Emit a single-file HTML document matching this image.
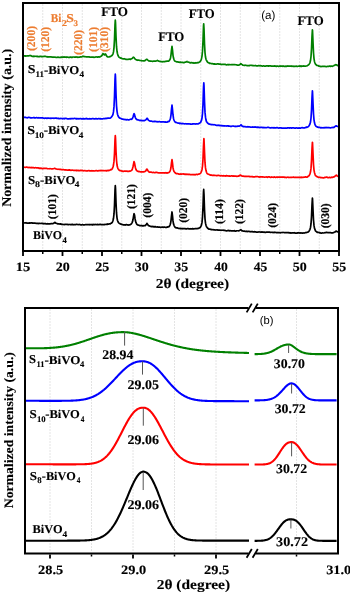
<!DOCTYPE html>
<html><head><meta charset="utf-8"><title>XRD patterns of BiVO4 and S-BiVO4</title>
<style>html,body{margin:0;padding:0;background:#fff;width:350px;height:594px;overflow:hidden}svg{display:block}</style>
</head><body>
<svg width="350" height="594" viewBox="0 0 350 594" text-rendering="geometricPrecision">
<rect width="350" height="594" fill="#fff"/>
<path d="M42.75,4.5V249.5M62.50,4.5V249.5M82.25,4.5V249.5M102.00,4.5V249.5M121.75,4.5V249.5M141.50,4.5V249.5M161.25,4.5V249.5M181.00,4.5V249.5M200.75,4.5V249.5M220.50,4.5V249.5M240.25,4.5V249.5M260.00,4.5V249.5M279.75,4.5V249.5M299.50,4.5V249.5M319.25,4.5V249.5" stroke="#c8c8c8" stroke-width="1" stroke-dasharray="1,2" fill="none"/>
<polyline points="24.00,55.98 24.50,55.89 25.00,56.09 25.50,55.90 26.00,56.05 26.50,56.02 27.00,55.87 27.50,56.01 28.00,55.83 28.50,55.91 29.00,55.72 29.50,55.59 30.00,55.65 30.30,55.77 30.50,55.65 31.00,55.71 31.50,56.02 32.00,56.33 32.50,56.32 33.00,56.26 33.50,56.53 34.00,56.22 34.50,56.51 35.00,56.36 35.50,56.26 36.00,56.23 36.50,56.31 37.00,56.59 37.50,56.41 38.00,56.54 38.50,56.62 39.00,56.54 39.50,56.59 40.00,56.40 40.50,56.34 41.00,56.38 41.50,56.62 42.00,56.58 42.50,56.50 43.00,56.57 43.50,56.49 44.00,56.32 44.50,56.42 45.00,56.39 45.10,56.27 45.50,56.33 46.00,56.46 46.50,56.75 47.00,56.85 47.50,56.72 48.00,57.02 48.50,56.75 49.00,56.82 49.50,57.02 50.00,56.83 50.50,56.93 51.00,56.77 51.50,57.02 52.00,57.17 52.50,57.14 53.00,57.29 53.50,57.09 54.00,57.21 54.50,57.22 55.00,57.23 55.50,57.18 56.00,57.36 56.50,57.48 57.00,57.32 57.50,57.36 58.00,57.11 58.50,57.31 59.00,57.35 59.50,57.52 60.00,57.50 60.50,57.25 61.00,57.20 61.50,57.32 62.00,57.06 62.50,57.17 63.00,57.07 63.50,57.01 64.00,56.96 64.50,57.27 65.00,57.08 65.50,57.07 66.00,57.13 66.50,57.37 67.00,57.09 67.50,57.16 68.00,57.23 68.50,57.40 69.00,57.43 69.50,57.46 70.00,57.20 70.50,57.17 71.00,57.13 71.50,57.36 72.00,57.47 72.50,57.13 73.00,57.03 73.50,57.01 74.00,57.01 74.50,57.11 75.00,57.20 75.50,57.07 76.00,56.91 76.50,57.03 77.00,57.05 77.50,57.14 78.00,57.34 78.50,57.28 79.00,57.16 79.50,57.15 80.00,57.14 80.50,56.82 81.00,57.02 81.50,56.94 82.00,56.81 82.50,56.57 82.90,56.27 83.00,56.23 83.50,56.23 84.00,56.64 84.50,56.61 85.00,56.66 85.50,56.77 86.00,56.81 86.50,56.92 87.00,56.84 87.50,56.80 88.00,56.86 88.50,56.86 89.00,56.99 89.50,56.88 90.00,57.24 90.50,57.25 91.00,57.04 91.50,57.02 92.00,57.05 92.50,57.07 93.00,56.97 93.50,57.27 94.00,57.43 94.50,57.25 95.00,57.19 95.50,56.98 96.00,56.91 96.50,56.99 97.00,56.97 97.50,57.20 98.00,56.96 98.50,56.78 99.00,57.11 99.50,56.98 100.00,56.68 100.50,56.64 101.00,56.19 101.50,55.94 102.00,55.46 102.50,54.43 102.90,53.67 103.00,53.62 103.50,54.22 104.00,54.69 104.50,54.87 105.00,54.25 105.40,53.97 105.50,53.99 106.00,54.73 106.50,55.84 107.00,56.53 107.50,56.81 108.00,56.94 108.50,57.01 109.00,56.99 109.50,56.71 110.00,56.68 110.50,56.49 111.00,56.12 111.50,55.79 112.00,55.45 112.50,54.78 113.00,53.82 113.50,51.90 114.00,47.61 114.50,39.25 115.00,25.03 115.30,20.07 115.50,22.38 116.00,36.57 116.50,46.43 117.00,51.28 117.50,53.78 118.00,55.40 118.50,56.49 119.00,57.12 119.50,57.39 120.00,57.73 120.50,58.05 121.00,57.95 121.50,58.28 122.00,58.60 122.50,58.73 123.00,58.83 123.50,58.81 124.00,58.72 124.50,59.02 125.00,58.97 125.50,59.21 126.00,59.41 126.50,59.26 127.00,59.24 127.50,59.51 128.00,59.52 128.50,59.26 129.00,59.14 129.50,59.08 130.00,59.35 130.50,59.31 131.00,58.86 131.50,58.81 132.00,58.58 132.50,58.03 133.00,57.45 133.40,57.37 133.50,57.22 134.00,57.44 134.50,58.38 135.00,58.89 135.50,59.26 136.00,59.74 136.50,59.81 137.00,60.13 137.50,60.31 138.00,60.16 138.50,60.18 139.00,60.26 139.50,60.31 140.00,60.52 140.50,60.49 141.00,60.58 141.50,60.51 142.00,60.86 142.50,60.75 143.00,60.76 143.50,60.82 144.00,60.96 144.50,60.70 145.00,60.69 145.50,60.24 146.00,59.72 146.50,59.30 146.60,59.27 147.00,59.40 147.50,59.88 148.00,60.19 148.50,60.78 149.00,60.77 149.50,60.95 150.00,61.17 150.50,61.19 151.00,61.12 151.50,61.20 152.00,61.25 152.50,61.39 153.00,61.13 153.50,61.24 154.00,61.14 154.50,61.09 155.00,61.27 155.50,61.15 156.00,61.03 156.50,60.92 157.00,60.78 157.40,60.47 157.50,60.55 158.00,60.70 158.50,60.96 159.00,61.24 159.50,61.29 160.00,61.38 160.50,61.42 161.00,61.66 161.50,61.65 162.00,61.74 162.50,61.81 163.00,61.53 163.50,61.57 164.00,61.75 164.50,61.77 165.00,61.44 165.50,61.30 166.00,61.37 166.50,61.20 167.00,61.17 167.50,61.03 168.00,61.15 168.50,61.10 169.00,60.91 169.50,60.12 170.00,59.45 170.50,57.97 171.00,54.86 171.50,50.12 172.00,46.27 172.50,50.01 173.00,55.30 173.50,58.06 174.00,59.60 174.50,60.71 175.00,61.25 175.50,61.30 176.00,61.57 176.50,61.79 177.00,61.87 177.50,61.89 178.00,62.00 178.50,62.27 179.00,62.07 179.50,62.28 180.00,62.32 180.50,62.16 181.00,62.27 181.50,62.46 182.00,62.48 182.50,62.29 183.00,62.65 183.50,62.67 184.00,62.75 184.50,62.35 185.00,62.22 185.50,61.99 186.00,62.10 186.50,61.75 187.00,61.48 187.20,61.67 187.50,61.87 188.00,62.15 188.50,62.17 189.00,62.24 189.50,62.69 190.00,62.74 190.50,62.86 191.00,62.65 191.50,62.58 192.00,62.86 192.50,62.85 193.00,62.70 193.50,63.05 194.00,63.03 194.50,63.10 195.00,62.79 195.50,63.02 196.00,62.72 196.50,62.96 197.00,62.82 197.50,62.66 198.00,62.64 198.50,62.71 199.00,62.30 199.50,61.90 200.00,61.67 200.50,61.04 201.00,60.10 201.50,58.68 202.00,56.08 202.50,51.13 203.00,40.92 203.50,26.05 203.70,23.87 204.00,28.71 204.50,43.77 205.00,52.62 205.50,57.04 206.00,59.19 206.50,60.56 207.00,61.29 207.50,62.13 208.00,62.52 208.50,62.64 209.00,62.93 209.50,63.33 210.00,63.17 210.50,63.50 211.00,63.49 211.50,63.57 212.00,63.79 212.50,63.71 213.00,63.76 213.50,63.90 214.00,64.11 214.50,63.91 215.00,64.10 215.50,64.13 216.00,64.13 216.50,64.05 217.00,64.01 217.50,63.89 218.00,63.90 218.50,63.89 219.00,64.22 219.50,64.13 220.00,64.07 220.50,64.03 221.00,64.38 221.50,64.54 222.00,64.52 222.50,64.35 223.00,64.29 223.50,64.30 224.00,64.40 224.50,64.32 225.00,64.43 225.50,64.41 226.00,64.73 226.50,64.87 227.00,64.73 227.50,64.56 228.00,64.85 228.50,64.66 229.00,64.64 229.50,64.48 230.00,64.61 230.50,64.71 231.00,64.77 231.50,64.66 232.00,64.78 232.50,64.60 233.00,64.67 233.50,64.62 234.00,64.76 234.50,64.65 235.00,64.61 235.50,64.74 236.00,64.76 236.50,64.93 237.00,64.97 237.50,65.08 238.00,65.07 238.50,65.07 239.00,65.10 239.50,64.78 240.00,64.40 240.50,64.10 240.90,63.57 241.00,63.67 241.50,64.30 242.00,64.52 242.50,65.02 243.00,65.27 243.50,65.26 244.00,65.34 244.50,65.42 245.00,65.16 245.50,65.26 246.00,65.30 246.50,65.48 247.00,65.55 247.50,65.59 248.00,65.51 248.50,65.64 249.00,65.60 249.50,65.60 250.00,65.40 250.50,65.25 251.00,65.26 251.50,65.38 252.00,65.32 252.50,65.64 253.00,65.64 253.50,65.68 254.00,65.71 254.50,65.75 255.00,65.69 255.50,65.46 256.00,65.75 256.50,65.85 257.00,65.78 257.50,65.78 258.00,65.85 258.50,65.61 259.00,65.85 259.50,65.72 260.00,65.61 260.50,65.67 261.00,65.91 261.50,65.77 262.00,65.97 262.50,66.16 263.00,66.02 263.50,65.93 264.00,65.96 264.50,66.06 265.00,66.14 265.50,66.10 266.00,66.10 266.50,65.85 267.00,65.79 267.50,65.83 268.00,66.07 268.50,65.95 269.00,66.04 269.50,65.82 270.00,65.76 270.50,65.85 271.00,66.06 271.50,66.15 272.00,66.18 272.50,66.01 273.00,66.06 273.50,66.06 274.00,66.06 274.50,65.91 275.00,66.21 275.50,66.01 276.00,66.29 276.50,66.38 277.00,65.99 277.50,66.06 278.00,66.25 278.50,66.39 279.00,66.21 279.50,66.06 280.00,65.99 280.50,66.30 281.00,66.08 281.50,66.17 282.00,66.01 282.50,66.13 283.00,66.37 283.50,66.08 284.00,66.30 284.50,66.24 285.00,66.39 285.50,66.36 286.00,66.14 286.50,66.37 287.00,66.27 287.50,66.02 288.00,65.93 288.50,66.12 289.00,66.17 289.50,66.12 290.00,66.04 290.50,66.10 291.00,66.11 291.50,66.36 292.00,66.06 292.50,66.30 293.00,66.43 293.50,66.15 294.00,66.42 294.50,66.41 295.00,66.50 295.50,66.25 296.00,66.20 296.50,66.19 297.00,66.47 297.50,66.37 298.00,66.23 298.50,66.21 299.00,66.13 299.50,66.00 300.00,65.97 300.50,66.29 301.00,66.14 301.50,66.38 302.00,66.14 302.50,66.04 303.00,66.11 303.50,65.96 304.00,65.97 304.50,66.21 305.00,66.23 305.50,66.15 306.00,65.98 306.50,65.98 307.00,65.89 307.50,65.55 308.00,65.33 308.50,64.70 309.00,64.42 309.50,63.63 310.00,62.57 310.50,60.54 311.00,56.62 311.50,49.04 312.00,36.63 312.40,29.87 312.50,30.31 313.00,42.00 313.50,52.76 314.00,58.61 314.50,61.71 315.00,63.08 315.50,64.15 316.00,64.66 316.50,65.17 317.00,65.43 317.50,65.54 318.00,65.67 318.50,65.81 319.00,66.24 319.50,66.26 320.00,66.18 320.50,66.50 321.00,66.69 321.50,66.53 322.00,66.36 322.50,66.32 323.00,66.25 323.50,66.35 324.00,66.26 324.50,66.30 325.00,66.31 325.50,66.46 326.00,66.64 326.50,66.64 327.00,66.47 327.50,66.40 328.00,66.42 328.50,66.35 329.00,66.29 329.50,66.13 330.00,66.15 330.50,66.46 331.00,66.16 331.50,66.20 332.00,66.24 332.50,66.31 333.00,65.98 333.50,65.80 334.00,65.59 334.50,65.37 335.00,65.02 335.50,64.85 335.80,64.57 336.00,64.85 336.50,64.81 337.00,65.06 337.50,65.59 338.00,65.93" stroke="#008000" stroke-width="1.7" fill="none" stroke-linejoin="round"/>
<polyline points="24.00,117.38 24.50,117.45 25.00,117.21 25.50,117.32 26.00,117.61 26.50,117.68 27.00,117.73 27.50,117.81 28.00,117.52 28.50,117.37 29.00,117.35 29.50,117.52 30.00,117.66 30.50,117.84 31.00,117.82 31.50,117.79 32.00,117.84 32.50,117.73 33.00,117.75 33.50,117.53 34.00,117.80 34.50,117.66 35.00,117.93 35.50,117.92 36.00,117.77 36.50,117.64 37.00,117.67 37.50,117.87 38.00,117.97 38.50,117.75 39.00,117.67 39.50,117.86 40.00,117.96 40.50,117.92 41.00,117.84 41.50,118.00 42.00,117.80 42.50,117.87 43.00,117.98 43.50,118.26 44.00,118.22 44.50,118.33 45.00,118.19 45.50,118.04 46.00,118.01 46.50,118.33 47.00,118.34 47.50,118.17 48.00,117.99 48.50,118.15 49.00,118.30 49.50,118.25 50.00,118.16 50.50,118.33 51.00,118.51 51.50,118.26 52.00,118.08 52.50,118.16 53.00,118.22 53.50,118.34 54.00,118.13 54.50,118.29 55.00,118.26 55.50,118.12 55.70,118.07 56.00,118.27 56.50,118.17 57.00,118.44 57.50,118.31 58.00,118.30 58.50,118.56 59.00,118.45 59.50,118.72 60.00,118.62 60.50,118.44 61.00,118.41 61.50,118.49 62.00,118.63 62.50,118.82 63.00,118.52 63.50,118.53 64.00,118.46 64.50,118.78 65.00,118.52 65.50,118.39 66.00,118.35 66.50,118.49 67.00,118.77 67.50,118.87 68.00,118.84 68.50,118.95 69.00,118.96 69.50,118.69 70.00,118.53 70.50,118.82 71.00,118.84 71.50,118.52 72.00,118.70 72.50,118.64 73.00,118.62 73.50,118.59 74.00,118.51 74.50,118.41 75.00,118.50 75.50,118.57 76.00,118.87 76.50,118.60 77.00,118.89 77.50,118.65 78.00,118.63 78.50,118.84 79.00,118.92 79.50,118.77 80.00,118.54 80.50,118.66 81.00,118.66 81.50,118.91 82.00,118.67 82.50,118.66 83.00,118.90 83.50,118.60 84.00,118.66 84.50,118.87 85.00,118.92 85.50,118.61 86.00,118.50 86.50,118.47 87.00,118.86 87.50,118.69 88.00,118.85 88.50,118.98 89.00,118.77 89.50,118.66 90.00,118.94 90.50,118.88 91.00,118.70 91.50,118.84 92.00,118.71 92.50,118.64 93.00,118.50 93.50,118.79 94.00,118.96 94.50,118.89 95.00,119.01 95.50,118.63 96.00,118.59 96.50,118.68 97.00,118.94 97.50,119.02 98.00,118.79 98.50,118.64 99.00,118.67 99.50,118.70 100.00,118.91 100.50,118.64 101.00,118.82 101.50,118.85 102.00,118.89 102.50,118.87 103.00,118.78 103.50,118.61 104.00,118.54 104.50,118.52 105.00,118.69 105.50,118.41 106.00,118.34 106.50,118.55 107.00,118.36 107.50,118.17 108.00,118.04 108.50,118.18 109.00,118.05 109.50,118.22 110.00,118.13 110.50,118.02 111.00,117.45 111.50,116.89 112.00,116.27 112.50,115.57 113.00,114.29 113.50,111.68 114.00,106.65 114.50,96.57 115.00,79.73 115.30,74.17 115.50,76.97 116.00,93.96 116.50,105.59 117.00,111.05 117.50,114.22 118.00,115.71 118.50,116.79 119.00,117.40 119.50,118.00 120.00,118.15 120.50,118.36 121.00,118.54 121.50,118.65 122.00,119.10 122.50,119.19 123.00,119.16 123.50,119.23 124.00,119.57 124.50,119.50 125.00,119.39 125.50,119.64 126.00,119.68 126.50,119.87 127.00,119.55 127.50,119.62 128.00,119.81 128.50,119.89 129.00,119.94 129.50,119.54 130.00,119.47 130.50,119.30 131.00,119.17 131.50,119.30 132.00,118.86 132.50,118.33 133.00,116.96 133.50,115.33 134.00,113.75 134.10,113.67 134.50,114.57 135.00,116.65 135.50,117.80 136.00,118.82 136.50,119.41 137.00,119.60 137.50,119.85 138.00,119.92 138.50,120.04 139.00,120.16 139.50,120.41 140.00,120.56 140.50,120.44 141.00,120.34 141.50,120.47 142.00,120.70 142.50,120.56 143.00,120.58 143.50,120.53 144.00,120.75 144.50,120.67 145.00,120.31 145.50,120.00 146.00,119.65 146.50,118.97 147.00,118.34 147.10,118.27 147.50,118.47 148.00,119.63 148.50,120.22 149.00,120.53 149.50,120.74 150.00,121.18 150.50,121.09 151.00,121.22 151.50,121.20 152.00,121.26 152.50,121.51 153.00,121.68 153.50,121.47 154.00,121.35 154.50,121.57 155.00,121.42 155.50,121.30 156.00,121.69 156.50,121.62 157.00,121.79 157.50,121.68 158.00,121.88 158.50,121.77 159.00,121.61 159.50,121.50 160.00,121.72 160.50,121.85 161.00,122.03 161.50,121.74 162.00,121.91 162.50,121.87 163.00,121.94 163.50,121.81 164.00,121.85 164.50,121.97 165.00,122.21 165.50,121.91 166.00,121.98 166.50,122.12 167.00,122.20 167.50,121.82 168.00,121.55 168.50,121.67 169.00,121.48 169.50,120.77 170.00,119.60 170.50,118.23 171.00,114.86 171.50,109.43 172.00,105.07 172.50,109.52 173.00,114.96 173.50,118.47 174.00,120.05 174.50,121.07 175.00,121.90 175.50,122.38 176.00,122.40 176.50,122.54 177.00,122.76 177.50,122.98 178.00,123.06 178.50,123.02 179.00,123.10 179.50,123.39 180.00,123.60 180.50,123.31 181.00,123.48 181.50,123.65 182.00,123.41 182.50,123.71 183.00,123.51 183.50,123.69 184.00,123.74 184.50,123.82 185.00,123.72 185.50,123.75 186.00,123.86 186.50,123.84 187.00,123.96 187.50,123.92 188.00,123.91 188.50,123.74 189.00,123.96 189.50,123.99 190.00,123.90 190.50,124.12 191.00,124.22 191.50,124.11 192.00,123.96 192.50,124.04 193.00,123.91 193.50,123.88 194.00,124.00 194.50,123.89 195.00,124.00 195.50,124.06 196.00,123.85 196.50,124.02 197.00,123.80 197.50,123.96 198.00,123.98 198.50,123.77 199.00,123.35 199.50,123.21 200.00,122.83 200.50,122.55 201.00,121.44 201.50,120.32 202.00,118.08 202.50,113.41 203.00,103.97 203.50,87.87 203.80,82.77 204.00,85.31 204.50,101.23 205.00,112.14 205.50,117.13 206.00,120.02 206.50,121.67 207.00,122.25 207.50,122.86 208.00,123.47 208.50,123.56 209.00,124.04 209.50,124.04 210.00,124.37 210.50,124.26 211.00,124.45 211.50,124.76 212.00,124.60 212.50,124.61 213.00,124.77 213.50,124.78 214.00,124.69 214.50,124.76 215.00,124.81 215.50,125.21 216.00,125.26 216.50,125.41 217.00,125.15 217.50,125.38 218.00,125.17 218.50,125.32 219.00,125.44 219.50,125.38 220.00,125.62 220.50,125.59 221.00,125.61 221.50,125.78 222.00,125.50 222.50,125.84 223.00,125.81 223.50,125.72 224.00,125.89 224.50,125.73 225.00,126.03 225.50,125.97 226.00,125.87 226.50,126.04 227.00,125.97 227.50,125.85 228.00,126.09 228.50,125.88 229.00,126.18 229.50,126.04 230.00,126.19 230.50,126.41 231.00,126.32 231.50,126.33 232.00,126.19 232.50,126.01 233.00,125.98 233.50,126.03 234.00,126.27 234.50,126.29 235.00,126.34 235.50,126.54 236.00,126.27 236.50,126.23 237.00,126.41 237.50,126.19 238.00,126.09 238.50,126.20 239.00,126.08 239.50,126.04 240.00,125.74 240.50,125.29 241.00,124.77 241.50,125.24 242.00,126.01 242.50,126.31 243.00,126.31 243.50,126.72 244.00,126.58 244.50,126.51 245.00,126.48 245.50,126.74 246.00,126.96 246.50,127.01 247.00,126.87 247.50,126.78 248.00,126.64 248.50,126.90 249.00,126.97 249.50,126.91 250.00,127.04 250.50,127.00 251.00,127.23 251.50,127.23 252.00,127.02 252.50,127.26 253.00,126.97 253.50,127.10 254.00,127.11 254.50,127.04 255.00,126.95 255.50,127.26 256.00,127.04 256.50,127.22 257.00,127.47 257.50,127.21 258.00,127.16 258.50,127.34 259.00,127.37 259.50,127.45 260.00,127.58 260.50,127.34 261.00,127.33 261.50,127.34 262.00,127.24 262.50,127.60 263.00,127.69 263.50,127.71 264.00,127.40 264.50,127.68 265.00,127.74 265.50,127.64 266.00,127.74 266.50,127.64 267.00,127.51 267.50,127.42 268.00,127.45 268.50,127.38 269.00,127.50 269.50,127.73 270.00,127.80 270.50,127.89 271.00,127.87 271.50,127.67 272.00,127.73 272.50,127.71 273.00,127.87 273.50,127.81 274.00,127.67 274.50,127.81 275.00,128.01 275.50,127.74 276.00,127.96 276.50,127.64 277.00,127.65 277.50,127.65 278.00,127.89 278.50,128.07 279.00,128.04 279.50,127.85 280.00,128.04 280.50,127.86 281.00,127.76 281.50,128.04 282.00,128.02 282.50,128.04 283.00,128.05 283.50,128.20 284.00,128.02 284.50,128.13 285.00,128.11 285.50,128.19 286.00,128.02 286.50,128.10 287.00,128.07 287.50,127.94 288.00,127.85 288.50,128.02 289.00,127.83 289.50,128.15 290.00,127.92 290.50,127.78 291.00,127.77 291.50,128.14 292.00,128.00 292.50,127.86 293.00,127.76 293.50,127.73 294.00,128.02 294.50,128.09 295.00,128.14 295.50,128.18 296.00,127.88 296.50,128.01 297.00,127.95 297.50,128.14 298.00,128.20 298.50,128.25 299.00,127.88 299.50,128.12 300.00,128.21 300.50,128.25 301.00,127.87 301.50,127.77 302.00,127.68 302.50,127.60 303.00,127.92 303.50,128.00 304.00,127.91 304.50,127.94 305.00,127.82 305.50,127.57 306.00,127.34 306.50,127.17 307.00,127.32 307.50,126.97 308.00,126.72 308.50,126.41 309.00,125.74 309.50,125.03 310.00,123.85 310.50,121.99 311.00,118.07 311.50,110.48 312.00,97.81 312.40,90.86 312.50,91.56 313.00,103.38 313.50,114.03 314.00,119.84 314.50,122.83 315.00,124.64 315.50,125.49 316.00,126.24 316.50,126.64 317.00,126.78 317.50,127.24 318.00,127.13 318.50,127.50 319.00,127.38 319.50,127.30 320.00,127.40 320.50,127.72 321.00,127.96 321.50,127.61 322.00,127.72 322.50,127.77 323.00,127.93 323.50,127.71 324.00,127.76 324.50,127.68 325.00,127.83 325.50,127.56 326.00,127.73 326.20,127.54 326.50,127.41 327.00,127.65 327.50,127.68 328.00,127.52 328.50,127.71 329.00,127.52 329.50,127.77 330.00,127.80 330.50,127.84 331.00,127.77 331.50,127.59 332.00,127.53 332.50,127.46 333.00,127.62 333.50,127.24 334.00,127.38 334.50,126.89 335.00,126.56 335.50,126.15 336.00,126.00 336.30,125.76 336.50,125.76 337.00,126.34 337.50,126.55 338.00,126.87" stroke="#0000ff" stroke-width="1.7" fill="none" stroke-linejoin="round"/>
<polyline points="24.00,167.11 24.50,167.25 25.00,167.32 25.50,167.32 26.00,167.21 26.50,167.18 27.00,167.12 27.50,167.43 28.00,167.48 28.50,167.56 29.00,167.34 29.50,167.42 30.00,167.62 30.50,167.62 31.00,167.44 31.50,167.55 32.00,167.81 32.50,167.62 33.00,167.56 33.50,167.61 34.00,167.84 34.50,168.00 35.00,167.77 35.50,167.71 36.00,167.75 36.50,167.83 37.00,167.97 37.50,167.87 38.00,167.94 38.50,167.92 39.00,168.30 39.50,168.34 40.00,168.09 40.50,168.42 41.00,168.16 41.50,168.22 42.00,168.53 42.50,168.57 43.00,168.57 43.50,168.45 44.00,168.32 44.50,168.50 45.00,168.33 45.50,168.34 46.00,168.44 46.50,168.33 47.00,168.47 47.50,168.72 48.00,168.78 48.50,168.72 49.00,168.78 49.50,168.74 50.00,168.58 50.50,168.75 51.00,168.73 51.50,168.87 52.00,168.99 52.50,168.80 53.00,168.76 53.50,168.77 54.00,168.54 54.50,168.29 55.00,168.37 55.50,168.67 56.00,168.86 56.50,169.00 57.00,169.19 57.50,169.24 58.00,169.29 58.50,169.26 59.00,169.22 59.50,169.38 60.00,169.23 60.50,169.35 61.00,169.59 61.50,169.67 62.00,169.68 62.50,169.54 63.00,169.60 63.50,169.66 64.00,169.78 64.50,169.75 65.00,169.89 65.50,170.08 66.00,169.83 66.50,169.98 67.00,170.12 67.50,170.00 68.00,170.02 68.50,170.26 69.00,169.93 69.50,170.07 70.00,169.95 70.50,170.21 71.00,170.39 71.50,170.28 72.00,170.06 72.50,170.22 73.00,170.27 73.50,170.38 74.00,170.35 74.50,170.41 75.00,170.53 75.50,170.45 76.00,170.38 76.50,170.62 77.00,170.38 77.50,170.53 78.00,170.46 78.50,170.62 79.00,170.40 79.50,170.73 80.00,170.58 80.50,170.40 81.00,170.45 81.50,170.54 82.00,170.41 82.50,170.57 83.00,170.64 83.50,170.80 84.00,170.72 84.50,170.64 85.00,170.60 85.50,170.82 86.00,170.99 86.50,170.86 87.00,170.67 87.50,170.88 88.00,170.76 88.50,170.64 89.00,170.56 89.50,170.83 90.00,170.93 90.50,170.89 91.00,170.80 91.50,170.81 92.00,170.66 92.50,170.95 93.00,170.77 93.50,170.84 94.00,170.94 94.50,170.98 95.00,170.83 95.50,170.70 96.00,170.77 96.50,170.60 97.00,170.86 97.50,170.73 98.00,170.91 98.50,170.70 99.00,170.68 99.50,170.61 100.00,170.66 100.50,170.57 101.00,170.45 101.50,170.73 102.00,170.62 102.50,170.56 103.00,170.56 103.50,170.63 104.00,170.63 104.50,170.71 105.00,170.73 105.50,170.59 106.00,170.79 106.50,170.80 107.00,170.41 107.50,170.60 108.00,170.67 108.50,170.59 109.00,170.21 109.50,170.33 110.00,170.20 110.50,169.77 111.00,169.47 111.50,169.57 112.00,169.14 112.50,168.27 113.00,167.01 113.50,164.99 114.00,161.15 114.50,153.43 115.00,139.98 115.30,135.67 115.50,137.89 116.00,151.28 116.50,160.23 117.00,164.98 117.50,167.25 118.00,168.62 118.50,169.40 119.00,170.02 119.50,170.37 120.00,170.66 120.50,170.57 121.00,170.86 121.50,170.95 122.00,171.14 122.50,171.12 123.00,171.36 123.50,171.33 124.00,171.21 124.50,171.17 125.00,171.13 125.50,171.28 126.00,171.15 126.50,171.29 127.00,171.18 127.50,171.30 128.00,171.32 128.50,171.33 129.00,171.43 129.50,171.02 130.00,171.17 130.50,170.93 131.00,170.69 131.50,170.36 132.00,169.82 132.50,168.58 133.00,166.72 133.50,164.19 134.00,161.62 134.10,161.67 134.50,162.94 135.00,165.61 135.50,168.03 136.00,169.48 136.50,170.43 137.00,170.71 137.50,171.26 138.00,171.35 138.50,171.45 139.00,171.74 139.50,171.50 140.00,171.77 140.50,171.85 141.00,171.77 141.50,172.00 142.00,171.86 142.50,171.86 143.00,171.87 143.50,171.97 144.00,171.70 144.50,171.62 145.00,171.43 145.50,171.13 146.00,170.61 146.50,169.45 146.90,169.07 147.00,169.10 147.50,169.95 148.00,170.77 148.50,171.41 149.00,171.98 149.50,172.12 150.00,172.29 150.50,172.19 151.00,172.18 151.50,172.20 152.00,172.37 152.50,172.47 153.00,172.59 153.50,172.31 154.00,172.55 154.50,172.72 155.00,172.64 155.50,172.39 156.00,172.44 156.50,172.33 157.00,172.39 157.50,172.76 158.00,172.75 158.50,172.78 159.00,172.86 159.50,172.96 160.00,172.86 160.50,172.84 161.00,172.84 161.50,172.90 162.00,172.89 162.50,172.95 163.00,172.77 163.50,172.93 164.00,172.90 164.50,173.03 165.00,172.78 165.50,172.73 166.00,172.64 166.50,172.93 167.00,173.06 167.50,172.94 168.00,172.69 168.50,172.69 169.00,172.48 169.50,171.98 170.00,171.09 170.50,169.74 171.00,167.26 171.50,162.82 172.00,159.67 172.50,163.05 173.00,167.70 173.50,169.95 174.00,171.46 174.50,172.04 175.00,172.50 175.50,173.13 176.00,173.36 176.50,173.69 177.00,173.66 177.50,173.52 178.00,173.69 178.50,173.89 179.00,174.15 179.50,174.29 180.00,174.13 180.50,174.07 181.00,173.93 181.50,174.15 182.00,174.05 182.50,174.01 183.00,173.95 183.50,173.94 184.00,174.27 184.50,174.14 185.00,174.50 185.50,174.23 186.00,174.51 186.50,174.29 187.00,174.17 187.50,174.46 188.00,174.36 188.50,174.56 189.00,174.39 189.50,174.28 190.00,174.58 190.50,174.67 191.00,174.77 191.50,174.76 192.00,174.47 192.50,174.62 193.00,174.71 193.50,174.63 194.00,174.82 194.50,174.57 195.00,174.80 195.50,174.76 196.00,174.41 196.50,174.26 197.00,174.47 197.50,174.58 198.00,174.23 198.50,174.13 199.00,174.19 199.50,173.79 200.00,173.75 200.50,173.24 201.00,172.36 201.50,171.37 202.00,169.65 202.50,166.15 203.00,159.13 203.50,145.83 203.90,138.67 204.00,139.20 204.50,151.90 205.00,162.69 205.50,167.95 206.00,170.60 206.50,172.25 207.00,173.28 207.50,173.83 208.00,174.11 208.50,174.23 209.00,174.28 209.50,174.80 210.00,174.93 210.50,175.09 211.00,174.97 211.50,175.10 212.00,175.35 212.50,175.40 213.00,175.35 213.50,175.22 214.00,175.25 214.50,175.50 215.00,175.37 215.50,175.48 216.00,175.50 216.50,175.66 217.00,175.69 217.50,175.48 218.00,175.29 218.50,175.36 219.00,175.47 219.50,175.60 220.00,175.76 220.50,175.86 221.00,175.52 221.50,175.78 222.00,175.87 222.50,175.94 223.00,175.84 223.50,175.68 224.00,175.90 224.50,175.97 225.00,175.95 225.50,176.05 226.00,175.84 226.50,175.66 227.00,175.82 227.50,176.00 228.00,175.80 228.50,175.99 229.00,176.15 229.50,175.90 230.00,175.99 230.50,176.07 231.00,176.00 231.50,175.87 232.00,175.86 232.50,176.09 233.00,176.20 233.50,176.09 234.00,175.90 234.50,176.16 235.00,176.25 235.50,176.04 236.00,176.13 236.50,176.31 237.00,176.37 237.50,176.22 238.00,176.13 238.50,176.12 239.00,175.87 239.50,175.63 240.00,175.22 240.50,175.07 241.00,175.40 241.50,175.89 242.00,176.05 242.50,176.19 243.00,176.10 243.50,176.04 244.00,176.47 244.50,176.35 245.00,176.20 245.50,176.41 246.00,176.56 246.50,176.34 247.00,176.47 247.50,176.41 248.00,176.48 248.50,176.29 249.00,176.24 249.50,176.67 250.00,176.77 250.50,176.64 251.00,176.65 251.50,176.52 252.00,176.72 252.50,176.64 253.00,176.86 253.50,176.86 254.00,176.90 254.50,176.98 255.00,176.70 255.50,176.51 256.00,176.53 256.50,176.54 257.00,176.50 257.50,176.49 258.00,176.72 258.50,176.96 259.00,176.86 259.50,177.06 260.00,177.12 260.50,176.77 261.00,176.90 261.50,176.86 262.00,176.73 262.50,177.08 263.00,176.89 263.50,176.97 264.00,177.04 264.50,177.22 265.00,177.15 265.50,177.01 266.00,176.99 266.50,176.85 267.00,177.18 267.50,177.31 268.00,177.01 268.50,176.82 269.00,176.86 269.50,176.93 270.00,177.21 270.50,177.31 271.00,177.32 271.50,176.97 272.00,177.18 272.50,177.23 273.00,177.22 273.50,177.38 274.00,177.02 274.50,176.93 275.00,177.19 275.50,177.37 276.00,177.31 276.50,177.13 277.00,177.20 277.50,177.31 278.00,177.05 278.50,177.06 279.00,177.04 279.50,176.98 280.00,177.13 280.50,177.04 281.00,177.04 281.50,177.01 282.00,177.24 282.50,177.03 283.00,177.28 283.50,177.13 284.00,177.01 284.50,177.38 285.00,177.19 285.50,177.45 286.00,177.52 286.50,177.56 287.00,177.23 287.50,177.26 288.00,177.12 288.50,177.45 289.00,177.53 289.50,177.46 290.00,177.36 290.50,177.28 291.00,177.48 291.50,177.39 292.00,177.44 292.50,177.23 293.00,177.20 293.50,177.12 294.00,177.39 294.50,177.42 295.00,177.24 295.50,177.52 296.00,177.34 296.50,177.34 297.00,177.23 297.50,177.24 298.00,177.51 298.50,177.37 299.00,177.24 299.50,177.34 300.00,177.30 300.50,177.54 301.00,177.26 301.50,177.55 302.00,177.23 302.50,177.48 303.00,177.46 303.50,177.22 304.00,177.24 304.50,177.13 305.00,177.04 305.50,176.94 306.00,176.93 306.50,177.14 307.00,177.12 307.50,176.96 308.00,176.35 308.50,175.99 309.00,175.78 309.50,174.78 310.00,173.85 310.50,171.77 311.00,168.40 311.50,160.88 312.00,148.79 312.40,142.27 312.50,142.57 313.00,153.81 313.50,164.60 314.00,170.06 314.50,172.72 315.00,174.36 315.50,175.56 316.00,175.95 316.50,176.45 317.00,176.58 317.50,176.76 318.00,177.19 318.50,177.38 319.00,177.28 319.50,177.24 320.00,177.27 320.50,177.55 321.00,177.62 321.50,177.57 322.00,177.54 322.50,177.73 323.00,177.85 323.50,177.93 324.00,177.82 324.50,177.53 325.00,177.28 325.50,177.37 326.00,177.16 326.20,177.17 326.50,177.01 327.00,177.38 327.50,177.37 328.00,177.62 328.50,177.72 329.00,177.58 329.50,177.31 330.00,177.60 330.50,177.49 331.00,177.60 331.50,177.33 332.00,177.17 332.50,177.36 333.00,177.16 333.50,176.91 334.00,176.81 334.50,176.71 335.00,176.14 335.50,175.82 336.00,175.34 336.30,175.27 336.50,175.13 337.00,175.73 337.50,176.31 338.00,176.68" stroke="#ff0000" stroke-width="1.7" fill="none" stroke-linejoin="round"/>
<polyline points="24.00,222.71 24.50,222.88 25.00,222.81 25.50,222.96 26.00,222.72 26.50,223.02 27.00,223.18 27.50,223.04 28.00,223.01 28.50,223.03 29.00,223.05 29.50,222.84 30.00,223.21 30.50,223.02 31.00,222.94 31.50,222.90 32.00,222.96 32.50,223.26 33.00,223.02 33.50,222.98 34.00,223.26 34.50,223.14 35.00,223.03 35.50,223.27 36.00,223.36 36.50,223.39 37.00,223.49 37.50,223.27 38.00,223.56 38.50,223.60 39.00,223.32 39.50,223.28 40.00,223.44 40.50,223.52 41.00,223.46 41.50,223.38 42.00,223.49 42.50,223.41 43.00,223.60 43.50,223.80 44.00,223.56 44.50,223.67 45.00,223.80 45.50,223.59 46.00,223.83 46.50,223.97 47.00,223.77 47.50,223.72 48.00,223.90 48.50,223.82 49.00,223.74 49.50,223.95 50.00,223.95 50.50,223.73 51.00,223.59 51.50,223.56 52.00,223.54 52.50,223.70 53.00,223.56 53.50,223.37 54.00,223.02 54.50,222.71 54.90,222.37 55.00,222.34 55.50,222.82 56.00,223.27 56.50,223.31 57.00,223.52 57.50,223.78 58.00,223.81 58.50,223.94 59.00,223.81 59.50,223.96 60.00,224.08 60.50,223.92 61.00,223.94 61.50,224.34 62.00,224.41 62.50,224.53 63.00,224.44 63.50,224.51 64.00,224.58 64.50,224.62 65.00,224.26 65.50,224.42 66.00,224.32 66.50,224.48 67.00,224.37 67.50,224.46 68.00,224.67 68.50,224.61 69.00,224.43 69.50,224.49 70.00,224.48 70.50,224.72 71.00,224.51 71.50,224.45 72.00,224.59 72.50,224.40 73.00,224.56 73.50,224.79 74.00,224.67 74.50,224.52 75.00,224.57 75.50,224.62 76.00,224.46 76.50,224.41 77.00,224.39 77.50,224.47 78.00,224.55 78.50,224.53 79.00,224.51 79.50,224.44 80.00,224.63 80.50,224.83 81.00,224.81 81.50,224.78 82.00,224.82 82.50,224.63 83.00,224.80 83.50,224.75 84.00,224.78 84.50,224.81 85.00,224.76 85.50,224.66 86.00,224.59 86.50,224.56 87.00,224.67 87.50,224.65 88.00,224.73 88.50,224.50 89.00,224.57 89.50,224.82 90.00,224.62 90.50,224.69 91.00,224.68 91.50,224.58 92.00,224.86 92.50,224.64 93.00,224.78 93.50,224.54 94.00,224.41 94.50,224.73 95.00,224.64 95.50,224.43 96.00,224.50 96.50,224.54 97.00,224.69 97.50,224.45 98.00,224.41 98.50,224.73 99.00,224.73 99.50,224.46 100.00,224.44 100.50,224.43 101.00,224.57 101.50,224.58 102.00,224.68 102.50,224.69 103.00,224.55 103.50,224.58 104.00,224.58 104.50,224.58 105.00,224.43 105.50,224.49 106.00,224.46 106.50,224.52 107.00,224.15 107.50,224.32 108.00,223.94 108.50,224.10 109.00,224.01 109.50,223.86 110.00,223.93 110.50,223.65 111.00,223.31 111.50,223.11 112.00,222.70 112.50,221.85 113.00,220.47 113.50,218.24 114.00,213.97 114.50,205.29 115.00,190.41 115.30,185.67 115.50,187.97 116.00,202.61 116.50,212.70 117.00,217.86 117.50,220.50 118.00,221.80 118.50,222.61 119.00,223.04 119.50,223.44 120.00,223.65 120.50,224.04 121.00,224.26 121.50,224.19 122.00,224.60 122.50,224.53 123.00,224.78 123.50,224.90 124.00,225.03 124.50,224.75 125.00,224.78 125.50,225.02 126.00,224.71 126.50,224.62 127.00,224.83 127.50,224.87 128.00,225.06 128.50,225.03 129.00,224.87 129.50,224.96 130.00,224.68 130.50,224.43 131.00,224.21 131.50,223.64 132.00,222.86 132.50,221.71 133.00,219.52 133.50,216.56 134.00,213.90 134.10,213.67 134.50,214.92 135.00,218.39 135.50,221.04 136.00,222.71 136.50,223.70 137.00,224.44 137.50,224.93 138.00,225.02 138.50,225.13 139.00,225.33 139.50,225.64 140.00,225.50 140.50,225.58 141.00,225.77 141.50,225.57 142.00,225.59 142.50,225.91 143.00,225.95 143.50,225.82 144.00,225.55 144.50,225.76 145.00,225.62 145.50,225.39 146.00,224.93 146.50,224.10 146.90,223.47 147.00,223.37 147.50,224.11 148.00,225.04 148.50,225.59 149.00,225.77 149.50,225.91 150.00,226.24 150.50,226.39 151.00,226.37 151.50,226.70 152.00,226.69 152.50,226.45 153.00,226.56 153.50,226.80 154.00,226.69 154.50,226.86 155.00,226.62 155.50,226.71 156.00,227.00 156.50,227.02 157.00,227.08 157.50,226.91 158.00,227.01 158.50,227.09 159.00,227.01 159.50,227.17 160.00,227.20 160.50,227.44 161.00,227.35 161.50,227.26 162.00,227.11 162.50,227.09 163.00,227.37 163.50,227.17 164.00,227.11 164.50,227.13 165.00,227.29 165.50,227.48 166.00,227.43 166.50,227.48 167.00,227.12 167.50,226.91 168.00,227.09 168.50,226.80 169.00,226.65 169.50,226.05 170.00,225.09 170.50,223.57 171.00,220.58 171.50,215.84 172.00,211.97 172.50,215.76 173.00,220.92 173.50,223.88 174.00,225.30 174.50,226.53 175.00,227.06 175.50,227.59 176.00,227.66 176.50,227.87 177.00,227.86 177.50,227.83 178.00,228.28 178.50,228.45 179.00,228.29 179.50,228.53 180.00,228.61 180.50,228.42 181.00,228.52 181.50,228.74 182.00,228.62 182.50,228.80 183.00,228.56 183.50,228.56 184.00,228.73 184.50,228.57 185.00,228.57 185.50,228.84 186.00,228.77 186.50,228.90 187.00,228.71 187.50,228.62 188.00,228.68 188.50,228.64 189.00,228.99 189.50,228.81 190.00,228.88 190.50,228.70 191.00,228.84 191.50,228.83 192.00,228.83 192.50,228.68 193.00,228.66 193.50,228.97 194.00,228.85 194.50,228.76 195.00,228.69 195.50,228.69 196.00,228.65 196.50,228.51 197.00,228.71 197.50,228.58 198.00,228.37 198.50,228.46 199.00,228.07 199.50,227.83 200.00,227.73 200.50,226.95 201.00,226.16 201.50,224.94 202.00,222.43 202.50,217.11 203.00,206.74 203.50,191.88 203.70,189.47 204.00,194.63 204.50,209.51 205.00,218.83 205.50,223.15 206.00,225.29 206.50,226.66 207.00,227.36 207.50,228.13 208.00,228.38 208.50,228.91 209.00,229.07 209.50,229.12 210.00,229.16 210.50,229.40 211.00,229.36 211.50,229.69 212.00,229.51 212.50,229.66 213.00,229.76 213.50,229.71 214.00,229.94 214.50,229.88 215.00,230.00 215.50,230.03 216.00,229.95 216.50,229.98 217.00,229.87 217.50,229.89 218.00,230.23 218.50,230.12 219.00,230.26 219.50,230.08 220.00,230.24 220.50,230.22 221.00,230.29 221.50,230.24 222.00,230.14 222.50,230.23 223.00,230.24 223.50,230.21 224.00,230.49 224.50,230.40 225.00,230.44 225.50,230.71 226.00,230.75 226.50,230.83 227.00,230.87 227.50,230.56 228.00,230.53 228.50,230.43 229.00,230.70 229.50,230.80 230.00,230.71 230.50,230.72 231.00,230.85 231.50,230.93 232.00,230.76 232.50,230.99 233.00,230.85 233.50,230.95 234.00,230.79 234.50,230.71 235.00,231.06 235.50,231.11 236.00,231.13 236.50,230.83 237.00,230.73 237.50,230.75 238.00,230.76 238.50,230.79 239.00,230.78 239.50,230.51 240.00,230.28 240.50,229.88 240.90,229.57 241.00,229.70 241.50,230.26 242.00,230.82 242.50,230.89 243.00,231.05 243.50,231.26 244.00,231.21 244.50,231.05 245.00,231.40 245.50,231.52 246.00,231.35 246.50,231.20 247.00,231.54 247.50,231.56 248.00,231.32 248.50,231.34 249.00,231.31 249.50,231.62 250.00,231.48 250.50,231.76 251.00,231.80 251.50,231.53 252.00,231.72 252.50,231.67 253.00,231.82 253.50,231.93 254.00,231.73 254.50,231.58 255.00,231.94 255.50,231.84 256.00,232.05 256.50,232.03 257.00,232.05 257.50,232.12 258.00,232.06 258.50,231.97 259.00,231.78 259.50,232.01 260.00,231.99 260.50,232.03 261.00,232.25 261.50,231.97 262.00,232.18 262.50,231.93 263.00,232.16 263.50,232.31 264.00,232.12 264.50,232.19 265.00,232.42 265.50,232.35 266.00,232.30 266.50,232.15 267.00,232.02 267.50,232.12 268.00,232.19 268.50,232.13 269.00,232.16 269.50,232.11 270.00,232.35 270.50,232.43 271.00,232.27 271.50,232.23 272.00,232.34 272.50,232.36 273.00,232.60 273.50,232.43 274.00,232.35 274.50,232.60 275.00,232.35 275.50,232.47 276.00,232.41 276.50,232.62 277.00,232.58 277.50,232.67 278.00,232.44 278.50,232.60 279.00,232.63 279.50,232.59 280.00,232.72 280.50,232.80 281.00,232.51 281.50,232.50 282.00,232.54 282.50,232.49 283.00,232.41 283.50,232.49 284.00,232.49 284.50,232.73 285.00,232.71 285.50,232.55 286.00,232.60 286.50,232.69 287.00,232.69 287.50,232.60 288.00,232.54 288.50,232.49 289.00,232.93 289.50,232.98 290.00,232.71 290.50,232.90 291.00,233.10 291.50,232.98 292.00,232.74 292.50,232.83 293.00,232.85 293.50,232.74 294.00,232.88 294.50,232.68 295.00,233.03 295.50,233.04 296.00,233.03 296.50,233.18 297.00,233.10 297.50,232.89 298.00,232.82 298.50,232.75 299.00,232.67 299.50,232.99 300.00,233.13 300.50,232.92 301.00,232.80 301.50,232.96 302.00,233.10 302.50,233.18 303.00,232.85 303.50,233.00 304.00,233.05 304.50,233.01 305.00,232.77 305.50,232.58 306.00,232.75 306.50,232.51 307.00,232.36 307.50,232.26 308.00,231.96 308.50,231.82 309.00,231.14 309.50,230.27 310.00,229.31 310.50,227.46 311.00,223.96 311.50,216.83 312.00,204.69 312.40,198.07 312.50,198.64 313.00,209.81 313.50,219.97 314.00,225.39 314.50,228.31 315.00,229.69 315.50,230.84 316.00,231.27 316.50,231.75 317.00,232.30 317.50,232.20 318.00,232.23 318.50,232.49 319.00,232.51 319.50,232.81 320.00,232.62 320.50,232.96 321.00,233.10 321.50,233.14 322.00,233.00 322.50,232.89 323.00,233.02 323.50,232.99 324.00,232.90 324.50,232.76 325.00,232.66 325.50,232.60 326.00,232.56 326.20,232.37 326.50,232.32 327.00,232.39 327.50,232.56 328.00,232.70 328.50,232.66 329.00,232.57 329.50,232.48 330.00,232.54 330.50,232.61 331.00,232.85 331.50,232.87 332.00,232.84 332.50,232.84 333.00,232.79 333.50,232.56 334.00,232.49 334.50,232.00 335.00,231.94 335.50,231.65 336.00,231.18 336.30,231.17 336.50,231.40 337.00,231.50 337.50,231.80 338.00,231.84" stroke="#000000" stroke-width="1.7" fill="none" stroke-linejoin="round"/>
<rect x="23" y="3" width="316" height="248" fill="none" stroke="#000" stroke-width="2"/>
<path d="M23.00,252V256M62.50,252V256M102.00,252V256M141.50,252V256M181.00,252V256M220.50,252V256M260.00,252V256M299.50,252V256M339.00,252V256" stroke="#000" stroke-width="1.8"/>
<path d="M42.75,252V254M82.25,252V254M121.75,252V254M161.25,252V254M200.75,252V254M240.25,252V254M279.75,252V254M319.25,252V254" stroke="#000" stroke-width="1.5"/>
<text x="15.68" y="270.57" font-size="12.80" font-family="Liberation Serif, serif" font-weight="bold" fill="#000" stroke="#000" stroke-width="0.12" textLength="14.60" lengthAdjust="spacingAndGlyphs">15</text>
<text x="55.76" y="270.57" font-size="12.80" font-family="Liberation Serif, serif" font-weight="bold" fill="#000" stroke="#000" stroke-width="0.12" textLength="14.02" lengthAdjust="spacingAndGlyphs">20</text>
<text x="95.26" y="270.57" font-size="12.80" font-family="Liberation Serif, serif" font-weight="bold" fill="#000" stroke="#000" stroke-width="0.12" textLength="14.00" lengthAdjust="spacingAndGlyphs">25</text>
<text x="134.83" y="270.57" font-size="12.80" font-family="Liberation Serif, serif" font-weight="bold" fill="#000" stroke="#000" stroke-width="0.12" textLength="13.96" lengthAdjust="spacingAndGlyphs">30</text>
<text x="174.33" y="270.57" font-size="12.80" font-family="Liberation Serif, serif" font-weight="bold" fill="#000" stroke="#000" stroke-width="0.12" textLength="13.93" lengthAdjust="spacingAndGlyphs">35</text>
<text x="214.16" y="270.57" font-size="12.80" font-family="Liberation Serif, serif" font-weight="bold" fill="#000" stroke="#000" stroke-width="0.12" textLength="13.60" lengthAdjust="spacingAndGlyphs">40</text>
<text x="253.66" y="270.57" font-size="12.80" font-family="Liberation Serif, serif" font-weight="bold" fill="#000" stroke="#000" stroke-width="0.12" textLength="13.58" lengthAdjust="spacingAndGlyphs">45</text>
<text x="292.79" y="270.57" font-size="12.80" font-family="Liberation Serif, serif" font-weight="bold" fill="#000" stroke="#000" stroke-width="0.12" textLength="13.99" lengthAdjust="spacingAndGlyphs">50</text>
<text x="332.29" y="270.57" font-size="12.80" font-family="Liberation Serif, serif" font-weight="bold" fill="#000" stroke="#000" stroke-width="0.12" textLength="13.97" lengthAdjust="spacingAndGlyphs">55</text>
<text x="155.75" y="287.58" font-size="13.70" font-family="Liberation Serif, serif" font-weight="bold" fill="#000" stroke="#000" stroke-width="0.12" textLength="73.32" lengthAdjust="spacingAndGlyphs">2θ (degree)</text>
<text transform="translate(10.60,206.86) rotate(-90)" font-size="13.40" font-family="Liberation Serif, serif" font-weight="bold" fill="#000" stroke="#000" stroke-width="0.12" textLength="157.97" lengthAdjust="spacingAndGlyphs">Normalized intensity (a.u.)</text>
<text x="261.2" y="19.2" font-size="11.6" font-family="Liberation Sans, sans-serif">(a)</text>
<text x="27.86" y="73.48" font-size="12.00" font-family="Liberation Serif, serif" font-weight="bold" fill="#000" stroke="#000" stroke-width="0.12" textLength="7.73" lengthAdjust="spacingAndGlyphs">S</text>
<text x="35.63" y="77.40" font-size="8.70" font-family="Liberation Serif, serif" font-weight="bold" fill="#000" stroke="#000" stroke-width="0.12" textLength="8.41" lengthAdjust="spacingAndGlyphs">11</text>
<text x="43.93" y="73.62" font-size="12.00" font-family="Liberation Serif, serif" font-weight="bold" fill="#000" stroke="#000" stroke-width="0.12" textLength="35.39" lengthAdjust="spacingAndGlyphs">-BiVO</text>
<text x="79.47" y="77.40" font-size="8.70" font-family="Liberation Serif, serif" font-weight="bold" fill="#000" stroke="#000" stroke-width="0.12" textLength="4.60" lengthAdjust="spacingAndGlyphs">4</text>
<text x="27.35" y="133.88" font-size="12.00" font-family="Liberation Serif, serif" font-weight="bold" fill="#000" stroke="#000" stroke-width="0.12" textLength="7.85" lengthAdjust="spacingAndGlyphs">S</text>
<text x="34.66" y="137.82" font-size="8.70" font-family="Liberation Serif, serif" font-weight="bold" fill="#000" stroke="#000" stroke-width="0.12" textLength="9.30" lengthAdjust="spacingAndGlyphs">10</text>
<text x="43.73" y="134.02" font-size="12.00" font-family="Liberation Serif, serif" font-weight="bold" fill="#000" stroke="#000" stroke-width="0.12" textLength="35.59" lengthAdjust="spacingAndGlyphs">-BiVO</text>
<text x="78.87" y="137.90" font-size="8.70" font-family="Liberation Serif, serif" font-weight="bold" fill="#000" stroke="#000" stroke-width="0.12" textLength="4.60" lengthAdjust="spacingAndGlyphs">4</text>
<text x="27.91" y="183.88" font-size="12.00" font-family="Liberation Serif, serif" font-weight="bold" fill="#000" stroke="#000" stroke-width="0.12" textLength="7.25" lengthAdjust="spacingAndGlyphs">S</text>
<text x="35.07" y="187.32" font-size="8.70" font-family="Liberation Serif, serif" font-weight="bold" fill="#000" stroke="#000" stroke-width="0.12" textLength="4.96" lengthAdjust="spacingAndGlyphs">8</text>
<text x="40.14" y="184.02" font-size="12.00" font-family="Liberation Serif, serif" font-weight="bold" fill="#000" stroke="#000" stroke-width="0.12" textLength="35.18" lengthAdjust="spacingAndGlyphs">-BiVO</text>
<text x="74.87" y="186.80" font-size="8.70" font-family="Liberation Serif, serif" font-weight="bold" fill="#000" stroke="#000" stroke-width="0.12" textLength="4.60" lengthAdjust="spacingAndGlyphs">4</text>
<text x="33.00" y="238.62" font-size="12.00" font-family="Liberation Serif, serif" font-weight="bold" fill="#000" stroke="#000" stroke-width="0.12" textLength="28.98" lengthAdjust="spacingAndGlyphs">BiVO</text>
<text x="62.48" y="243.10" font-size="8.70" font-family="Liberation Serif, serif" font-weight="bold" fill="#000" stroke="#000" stroke-width="0.12" textLength="4.28" lengthAdjust="spacingAndGlyphs">4</text>
<text x="50.71" y="22.06" font-size="12.00" font-family="Liberation Serif, serif" font-weight="bold" fill="#ed7d31" stroke="#ed7d31" stroke-width="0.2" textLength="10.55" lengthAdjust="spacingAndGlyphs">Bi</text>
<text x="61.65" y="25.50" font-size="8.70" font-family="Liberation Serif, serif" font-weight="bold" fill="#ed7d31" stroke="#ed7d31" stroke-width="0.2" textLength="5.30" lengthAdjust="spacingAndGlyphs">2</text>
<text x="66.27" y="22.28" font-size="12.00" font-family="Liberation Serif, serif" font-weight="bold" fill="#ed7d31" stroke="#ed7d31" stroke-width="0.2" textLength="7.61" lengthAdjust="spacingAndGlyphs">S</text>
<text x="73.47" y="25.62" font-size="8.70" font-family="Liberation Serif, serif" font-weight="bold" fill="#ed7d31" stroke="#ed7d31" stroke-width="0.2" textLength="4.44" lengthAdjust="spacingAndGlyphs">3</text>
<text x="101.18" y="15.97" font-size="13.10" font-family="Liberation Serif, serif" font-weight="bold" fill="#000" stroke="#000" stroke-width="0.12" textLength="26.65" lengthAdjust="spacingAndGlyphs">FTO</text>
<text x="158.18" y="41.47" font-size="13.10" font-family="Liberation Serif, serif" font-weight="bold" fill="#000" stroke="#000" stroke-width="0.12" textLength="26.14" lengthAdjust="spacingAndGlyphs">FTO</text>
<text x="188.68" y="17.67" font-size="13.10" font-family="Liberation Serif, serif" font-weight="bold" fill="#000" stroke="#000" stroke-width="0.12" textLength="25.93" lengthAdjust="spacingAndGlyphs">FTO</text>
<text x="297.48" y="24.97" font-size="13.10" font-family="Liberation Serif, serif" font-weight="bold" fill="#000" stroke="#000" stroke-width="0.12" textLength="26.14" lengthAdjust="spacingAndGlyphs">FTO</text>
<text transform="translate(34.84,51.01) rotate(-90)" font-size="11.80" font-family="Liberation Serif, serif" font-weight="bold" fill="#ed7d31" stroke="#ed7d31" stroke-width="0.2" textLength="25.02" lengthAdjust="spacingAndGlyphs">(200)</text>
<text transform="translate(48.84,51.81) rotate(-90)" font-size="11.80" font-family="Liberation Serif, serif" font-weight="bold" fill="#ed7d31" stroke="#ed7d31" stroke-width="0.2" textLength="25.02" lengthAdjust="spacingAndGlyphs">(120)</text>
<text transform="translate(82.24,54.91) rotate(-90)" font-size="11.80" font-family="Liberation Serif, serif" font-weight="bold" fill="#ed7d31" stroke="#ed7d31" stroke-width="0.2" textLength="25.02" lengthAdjust="spacingAndGlyphs">(220)</text>
<text transform="translate(96.74,51.91) rotate(-90)" font-size="11.80" font-family="Liberation Serif, serif" font-weight="bold" fill="#ed7d31" stroke="#ed7d31" stroke-width="0.2" textLength="25.02" lengthAdjust="spacingAndGlyphs">(101)</text>
<text transform="translate(108.14,52.01) rotate(-90)" font-size="11.80" font-family="Liberation Serif, serif" font-weight="bold" fill="#ed7d31" stroke="#ed7d31" stroke-width="0.2" textLength="25.02" lengthAdjust="spacingAndGlyphs">(310)</text>
<text transform="translate(55.54,219.21) rotate(-90)" font-size="11.80" font-family="Liberation Serif, serif" font-weight="bold" fill="#000000" stroke="#000000" stroke-width="0.2" textLength="25.02" lengthAdjust="spacingAndGlyphs">(101)</text>
<text transform="translate(135.14,209.11) rotate(-90)" font-size="11.80" font-family="Liberation Serif, serif" font-weight="bold" fill="#000000" stroke="#000000" stroke-width="0.2" textLength="25.02" lengthAdjust="spacingAndGlyphs">(121)</text>
<text transform="translate(151.14,217.71) rotate(-90)" font-size="11.80" font-family="Liberation Serif, serif" font-weight="bold" fill="#000000" stroke="#000000" stroke-width="0.2" textLength="25.02" lengthAdjust="spacingAndGlyphs">(004)</text>
<text transform="translate(187.04,222.81) rotate(-90)" font-size="11.80" font-family="Liberation Serif, serif" font-weight="bold" fill="#000000" stroke="#000000" stroke-width="0.2" textLength="25.02" lengthAdjust="spacingAndGlyphs">(020)</text>
<text transform="translate(222.74,224.11) rotate(-90)" font-size="11.80" font-family="Liberation Serif, serif" font-weight="bold" fill="#000000" stroke="#000000" stroke-width="0.2" textLength="25.02" lengthAdjust="spacingAndGlyphs">(114)</text>
<text transform="translate(243.44,224.11) rotate(-90)" font-size="11.80" font-family="Liberation Serif, serif" font-weight="bold" fill="#000000" stroke="#000000" stroke-width="0.2" textLength="25.02" lengthAdjust="spacingAndGlyphs">(122)</text>
<text transform="translate(275.84,227.81) rotate(-90)" font-size="11.80" font-family="Liberation Serif, serif" font-weight="bold" fill="#000000" stroke="#000000" stroke-width="0.2" textLength="25.02" lengthAdjust="spacingAndGlyphs">(024)</text>
<text transform="translate(329.04,228.31) rotate(-90)" font-size="11.80" font-family="Liberation Serif, serif" font-weight="bold" fill="#000000" stroke="#000000" stroke-width="0.2" textLength="25.02" lengthAdjust="spacingAndGlyphs">(030)</text>
<path d="M50.00,309.5V551.9M91.50,309.5V551.9M133.00,309.5V551.9M174.50,309.5V551.9M216.00,309.5V551.9M296.50,309.5V551.9" stroke="#c8c8c8" stroke-width="1" stroke-dasharray="1,2" fill="none"/>
<polyline points="26.00,348.25 26.50,348.26 27.00,348.27 27.50,348.27 28.00,348.28 28.50,348.28 29.00,348.29 29.50,348.29 30.00,348.29 30.50,348.30 31.00,348.30 31.50,348.30 32.00,348.31 32.50,348.31 33.00,348.31 33.50,348.31 34.00,348.31 34.50,348.31 35.00,348.31 35.50,348.31 36.00,348.31 36.50,348.31 37.00,348.31 37.50,348.30 38.00,348.30 38.50,348.29 39.00,348.29 39.50,348.28 40.00,348.27 40.50,348.27 41.00,348.26 41.50,348.25 42.00,348.24 42.50,348.23 43.00,348.21 43.50,348.20 44.00,348.19 44.50,348.17 45.00,348.15 45.50,348.14 46.00,348.12 46.50,348.10 47.00,348.08 47.50,348.05 48.00,348.03 48.50,348.01 49.00,347.98 49.50,347.95 50.00,347.92 50.50,347.89 51.00,347.86 51.50,347.82 52.00,347.79 52.50,347.75 53.00,347.71 53.50,347.67 54.00,347.63 54.50,347.59 55.00,347.54 55.50,347.49 56.00,347.44 56.50,347.39 57.00,347.34 57.50,347.28 58.00,347.22 58.50,347.16 59.00,347.10 59.50,347.04 60.00,346.97 60.50,346.90 61.00,346.83 61.50,346.76 62.00,346.68 62.50,346.61 63.00,346.53 63.50,346.45 64.00,346.36 64.50,346.28 65.00,346.19 65.50,346.09 66.00,346.00 66.50,345.90 67.00,345.81 67.50,345.71 68.00,345.60 68.50,345.50 69.00,345.39 69.50,345.28 70.00,345.16 70.50,345.05 71.00,344.93 71.50,344.81 72.00,344.69 72.50,344.56 73.00,344.44 73.50,344.31 74.00,344.17 74.50,344.04 75.00,343.90 75.50,343.77 76.00,343.62 76.50,343.48 77.00,343.34 77.50,343.19 78.00,343.04 78.50,342.89 79.00,342.74 79.50,342.58 80.00,342.43 80.50,342.27 81.00,342.11 81.50,341.95 82.00,341.79 82.50,341.62 83.00,341.46 83.50,341.29 84.00,341.13 84.50,340.96 85.00,340.79 85.50,340.62 86.00,340.45 86.50,340.28 87.00,340.10 87.50,339.93 88.00,339.76 88.50,339.58 89.00,339.41 89.50,339.23 90.00,339.06 90.50,338.89 91.00,338.71 91.50,338.54 92.00,338.37 92.50,338.19 93.00,338.02 93.50,337.85 94.00,337.68 94.50,337.51 95.00,337.34 95.50,337.17 96.00,337.01 96.50,336.84 97.00,336.68 97.50,336.52 98.00,336.36 98.50,336.20 99.00,336.04 99.50,335.89 100.00,335.74 100.50,335.59 101.00,335.44 101.50,335.29 102.00,335.15 102.50,335.01 103.00,334.87 103.50,334.74 104.00,334.60 104.50,334.48 105.00,334.35 105.50,334.23 106.00,334.11 106.50,333.99 107.00,333.88 107.50,333.77 108.00,333.66 108.50,333.56 109.00,333.46 109.50,333.36 110.00,333.27 110.50,333.18 111.00,333.09 111.50,333.01 112.00,332.93 112.50,332.86 113.00,332.79 113.50,332.72 114.00,332.66 114.50,332.60 115.00,332.54 115.50,332.49 116.00,332.45 116.50,332.40 117.00,332.36 117.50,332.33 118.00,332.29 118.50,332.26 119.00,332.24 119.50,332.22 120.00,332.20 120.50,332.18 121.00,332.17 121.50,332.16 122.00,332.16 122.50,332.16 123.00,332.16 123.50,332.16 124.00,332.17 124.50,332.18 124.80,332.18 125.00,332.19 125.50,332.21 126.00,332.24 126.50,332.27 127.00,332.31 127.50,332.36 128.00,332.41 128.50,332.47 129.00,332.53 129.50,332.60 130.00,332.68 130.50,332.75 131.00,332.83 131.50,332.92 132.00,333.01 132.50,333.10 133.00,333.20 133.50,333.30 134.00,333.41 134.50,333.52 135.00,333.63 135.50,333.74 136.00,333.86 136.50,333.98 137.00,334.11 137.50,334.23 138.00,334.36 138.50,334.50 139.00,334.63 139.50,334.77 140.00,334.91 140.50,335.05 141.00,335.19 141.50,335.34 142.00,335.49 142.50,335.64 143.00,335.79 143.50,335.94 144.00,336.10 144.50,336.25 145.00,336.41 145.50,336.57 146.00,336.73 146.50,336.89 147.00,337.06 147.50,337.22 148.00,337.38 148.50,337.55 149.00,337.71 149.50,337.88 150.00,338.05 150.50,338.21 151.00,338.38 151.50,338.55 152.00,338.72 152.50,338.89 153.00,339.06 153.50,339.23 154.00,339.39 154.50,339.56 155.00,339.73 155.50,339.90 156.00,340.07 156.50,340.24 157.00,340.40 157.50,340.57 158.00,340.74 158.50,340.90 159.00,341.07 159.50,341.23 160.00,341.40 160.50,341.56 161.00,341.72 161.50,341.89 162.00,342.05 162.50,342.21 163.00,342.37 163.50,342.53 164.00,342.68 164.50,342.84 165.00,342.99 165.50,343.15 166.00,343.30 166.50,343.45 167.00,343.60 167.50,343.75 168.00,343.90 168.50,344.04 169.00,344.19 169.50,344.33 170.00,344.48 170.50,344.62 171.00,344.76 171.50,344.90 172.00,345.03 172.50,345.17 173.00,345.30 173.50,345.43 174.00,345.56 174.50,345.69 175.00,345.82 175.50,345.95 176.00,346.07 176.50,346.20 177.00,346.32 177.50,346.44 178.00,346.56 178.50,346.67 179.00,346.79 179.50,346.90 180.00,347.02 180.50,347.13 181.00,347.24 181.50,347.34 182.00,347.45 182.50,347.56 183.00,347.66 183.50,347.76 184.00,347.86 184.50,347.96 185.00,348.06 185.50,348.15 186.00,348.25 186.50,348.34 187.00,348.43 187.50,348.52 188.00,348.61 188.50,348.70 189.00,348.78 189.50,348.87 190.00,348.95 190.50,349.03 191.00,349.11 191.50,349.19 192.00,349.27 192.50,349.34 193.00,349.42 193.50,349.49 194.00,349.56 194.50,349.63 195.00,349.70 195.50,349.77 196.00,349.84 196.50,349.90 197.00,349.97 197.50,350.03 198.00,350.09 198.50,350.16 199.00,350.22 199.50,350.27 200.00,350.33 200.50,350.39 201.00,350.44 201.50,350.50 202.00,350.55 202.50,350.61 203.00,350.66 203.50,350.71 204.00,350.76 204.50,350.81 205.00,350.85 205.50,350.90 206.00,350.95 206.50,350.99 207.00,351.04 207.50,351.08 208.00,351.12 208.50,351.16 209.00,351.20 209.50,351.24 210.00,351.28 210.50,351.32 211.00,351.36 211.50,351.40 212.00,351.43 212.50,351.47 213.00,351.50 213.50,351.54 214.00,351.57 214.50,351.61 215.00,351.64 215.50,351.67 216.00,351.70 216.50,351.73 217.00,351.76 217.50,351.79 218.00,351.82 218.50,351.85 219.00,351.88 219.50,351.90 220.00,351.93 220.50,351.96 221.00,351.98 221.50,352.01 222.00,352.03 222.50,352.06 223.00,352.08 223.50,352.11 224.00,352.13 224.50,352.15 225.00,352.18 225.50,352.20 226.00,352.22 226.50,352.24 227.00,352.26 227.50,352.28 228.00,352.30 228.50,352.33 229.00,352.35 229.50,352.36 230.00,352.38 230.50,352.40 231.00,352.42 231.50,352.44 232.00,352.46 232.50,352.48 233.00,352.49 233.50,352.51 234.00,352.53 234.50,352.55 235.00,352.56 235.50,352.58 236.00,352.60 236.50,352.61 237.00,352.63 237.50,352.64 238.00,352.66 238.50,352.68 239.00,352.69 239.50,352.71 240.00,352.72 240.50,352.74 241.00,352.75 241.50,352.76 242.00,352.78 242.50,352.79 243.00,352.81 243.50,352.82 244.00,352.83 244.50,352.85 245.00,352.86 245.50,352.88 246.00,352.89 246.50,352.90 247.00,352.92 247.50,352.93 248.00,352.94 248.50,352.95 249.00,352.97" stroke="#008000" stroke-width="2.1" fill="none"/>
<polyline points="254.60,354.12 255.10,354.12 255.60,354.11 256.10,354.11 256.60,354.10 257.10,354.09 257.60,354.08 258.10,354.07 258.60,354.06 259.10,354.04 259.60,354.02 260.10,354.00 260.60,353.97 261.10,353.94 261.60,353.91 262.10,353.87 262.60,353.82 263.10,353.77 263.60,353.71 264.10,353.65 264.60,353.57 265.10,353.49 265.60,353.40 266.10,353.30 266.60,353.19 267.10,353.07 267.60,352.94 268.10,352.80 268.60,352.65 269.10,352.48 269.60,352.30 270.10,352.11 270.60,351.91 271.10,351.70 271.60,351.48 272.10,351.24 272.60,351.00 273.10,350.74 273.60,350.48 274.10,350.21 274.60,349.93 275.10,349.65 275.60,349.36 276.10,349.07 276.60,348.78 277.10,348.48 277.60,348.19 278.10,347.90 278.60,347.62 279.10,347.34 279.60,347.07 280.10,346.81 280.60,346.56 281.10,346.31 281.60,346.09 282.10,345.87 282.60,345.67 283.10,345.49 283.60,345.32 284.10,345.17 284.60,345.03 285.10,344.91 285.60,344.81 286.10,344.72 286.60,344.65 287.10,344.60 287.60,344.56 288.10,344.53 288.60,344.52 289.10,344.51 289.30,344.51 289.60,344.54 290.10,344.67 290.60,344.86 291.10,345.10 291.60,345.38 292.10,345.69 292.60,346.03 293.10,346.38 293.60,346.75 294.10,347.13 294.60,347.51 295.10,347.89 295.60,348.27 296.10,348.65 296.60,349.01 297.10,349.37 297.60,349.72 298.10,350.05 298.60,350.37 299.10,350.67 299.60,350.96 300.10,351.24 300.60,351.49 301.10,351.73 301.60,351.96 302.10,352.16 302.60,352.36 303.10,352.54 303.60,352.70 304.10,352.85 304.60,352.99 305.10,353.11 305.60,353.23 306.10,353.33 306.60,353.42 307.10,353.51 307.60,353.58 308.10,353.65 308.60,353.71 309.10,353.76 309.60,353.81 310.10,353.85 310.60,353.89 311.10,353.92 311.60,353.95 312.10,353.98 312.60,354.00 313.10,354.02 313.60,354.04 314.10,354.05 314.60,354.06 315.10,354.08 315.60,354.08 316.10,354.09 316.60,354.10 317.10,354.11 317.60,354.11 318.10,354.12 318.60,354.12 319.10,354.12 319.60,354.13 320.10,354.13 320.60,354.13 321.10,354.13 321.60,354.13 322.10,354.13 322.60,354.14 323.10,354.14 323.60,354.14 324.10,354.14 324.60,354.14 325.10,354.14 325.60,354.14 326.10,354.14 326.60,354.14 327.10,354.14 327.60,354.14 328.10,354.14 328.60,354.14 329.10,354.14 329.60,354.14 330.10,354.14 330.60,354.14 331.10,354.14 331.60,354.14 332.10,354.14 332.60,354.14 333.10,354.14 333.60,354.14 334.10,354.14 334.60,354.14 335.10,354.14 335.60,354.14 336.10,354.14 336.60,354.14" stroke="#008000" stroke-width="2.1" fill="none"/>
<polyline points="26.00,400.80 26.50,400.80 27.00,400.80 27.50,400.80 28.00,400.81 28.50,400.81 29.00,400.81 29.50,400.81 30.00,400.81 30.50,400.81 31.00,400.81 31.50,400.81 32.00,400.81 32.50,400.81 33.00,400.81 33.50,400.82 34.00,400.82 34.50,400.82 35.00,400.82 35.50,400.82 36.00,400.82 36.50,400.82 37.00,400.82 37.50,400.82 38.00,400.82 38.50,400.82 39.00,400.82 39.50,400.83 40.00,400.83 40.50,400.83 41.00,400.83 41.50,400.83 42.00,400.83 42.50,400.83 43.00,400.83 43.50,400.83 44.00,400.83 44.50,400.83 45.00,400.83 45.50,400.84 46.00,400.84 46.50,400.84 47.00,400.84 47.50,400.84 48.00,400.84 48.50,400.84 49.00,400.84 49.50,400.84 50.00,400.84 50.50,400.84 51.00,400.84 51.50,400.84 52.00,400.84 52.50,400.84 53.00,400.84 53.50,400.84 54.00,400.84 54.50,400.84 55.00,400.84 55.50,400.84 56.00,400.84 56.50,400.84 57.00,400.84 57.50,400.84 58.00,400.84 58.50,400.84 59.00,400.84 59.50,400.84 60.00,400.83 60.50,400.83 61.00,400.83 61.50,400.83 62.00,400.82 62.50,400.82 63.00,400.82 63.50,400.81 64.00,400.81 64.50,400.80 65.00,400.79 65.50,400.79 66.00,400.78 66.50,400.77 67.00,400.77 67.50,400.76 68.00,400.75 68.50,400.73 69.00,400.72 69.50,400.71 70.00,400.70 70.50,400.68 71.00,400.66 71.50,400.65 72.00,400.63 72.50,400.60 73.00,400.58 73.50,400.56 74.00,400.53 74.50,400.50 75.00,400.47 75.50,400.44 76.00,400.41 76.50,400.37 77.00,400.33 77.50,400.29 78.00,400.24 78.50,400.19 79.00,400.14 79.50,400.09 80.00,400.03 80.50,399.97 81.00,399.90 81.50,399.83 82.00,399.76 82.50,399.68 83.00,399.60 83.50,399.51 84.00,399.42 84.50,399.33 85.00,399.22 85.50,399.12 86.00,399.00 86.50,398.88 87.00,398.76 87.50,398.63 88.00,398.49 88.50,398.34 89.00,398.19 89.50,398.03 90.00,397.87 90.50,397.70 91.00,397.52 91.50,397.33 92.00,397.13 92.50,396.93 93.00,396.71 93.50,396.49 94.00,396.26 94.50,396.02 95.00,395.77 95.50,395.52 96.00,395.25 96.50,394.98 97.00,394.69 97.50,394.40 98.00,394.10 98.50,393.78 99.00,393.46 99.50,393.13 100.00,392.79 100.50,392.44 101.00,392.08 101.50,391.71 102.00,391.33 102.50,390.94 103.00,390.54 103.50,390.13 104.00,389.72 104.50,389.29 105.00,388.86 105.50,388.42 106.00,387.97 106.50,387.51 107.00,387.04 107.50,386.57 108.00,386.09 108.50,385.61 109.00,385.11 109.50,384.61 110.00,384.11 110.50,383.60 111.00,383.08 111.50,382.56 112.00,382.04 112.50,381.51 113.00,380.98 113.50,380.45 114.00,379.91 114.50,379.38 115.00,378.84 115.50,378.30 116.00,377.76 116.50,377.23 117.00,376.69 117.50,376.15 118.00,375.62 118.50,375.09 119.00,374.56 119.50,374.04 120.00,373.52 120.50,373.01 121.00,372.50 121.50,372.00 122.00,371.51 122.50,371.02 123.00,370.54 123.50,370.07 124.00,369.61 124.50,369.15 125.00,368.71 125.50,368.27 126.00,367.85 126.50,367.44 127.00,367.04 127.50,366.65 128.00,366.27 128.50,365.91 129.00,365.56 129.50,365.22 130.00,364.90 130.50,364.59 131.00,364.29 131.50,364.01 132.00,363.74 132.50,363.48 133.00,363.24 133.50,363.02 134.00,362.81 134.50,362.61 135.00,362.43 135.50,362.26 136.00,362.10 136.50,361.97 137.00,361.84 137.50,361.73 138.00,361.63 138.50,361.55 139.00,361.47 139.50,361.41 140.00,361.37 140.50,361.33 141.00,361.30 141.50,361.29 142.00,361.28 142.40,361.28 142.50,361.28 143.00,361.29 143.50,361.31 144.00,361.35 144.50,361.40 145.00,361.47 145.50,361.56 146.00,361.66 146.50,361.78 147.00,361.93 147.50,362.09 148.00,362.27 148.50,362.47 149.00,362.68 149.50,362.92 150.00,363.18 150.50,363.45 151.00,363.75 151.50,364.06 152.00,364.39 152.50,364.74 153.00,365.10 153.50,365.49 154.00,365.88 154.50,366.30 155.00,366.73 155.50,367.18 156.00,367.64 156.50,368.11 157.00,368.60 157.50,369.10 158.00,369.61 158.50,370.14 159.00,370.67 159.50,371.22 160.00,371.77 160.50,372.33 161.00,372.90 161.50,373.47 162.00,374.05 162.50,374.64 163.00,375.23 163.50,375.83 164.00,376.42 164.50,377.02 165.00,377.62 165.50,378.22 166.00,378.82 166.50,379.42 167.00,380.02 167.50,380.61 168.00,381.21 168.50,381.79 169.00,382.38 169.50,382.96 170.00,383.53 170.50,384.10 171.00,384.66 171.50,385.21 172.00,385.75 172.50,386.29 173.00,386.82 173.50,387.34 174.00,387.85 174.50,388.35 175.00,388.84 175.50,389.32 176.00,389.79 176.50,390.24 177.00,390.69 177.50,391.13 178.00,391.55 178.50,391.97 179.00,392.37 179.50,392.76 180.00,393.14 180.50,393.51 181.00,393.86 181.50,394.21 182.00,394.54 182.50,394.86 183.00,395.17 183.50,395.47 184.00,395.76 184.50,396.03 185.00,396.30 185.50,396.56 186.00,396.80 186.50,397.04 187.00,397.26 187.50,397.48 188.00,397.69 188.50,397.88 189.00,398.07 189.50,398.25 190.00,398.42 190.50,398.59 191.00,398.74 191.50,398.89 192.00,399.03 192.50,399.16 193.00,399.29 193.50,399.40 194.00,399.52 194.50,399.62 195.00,399.72 195.50,399.82 196.00,399.91 196.50,399.99 197.00,400.07 197.50,400.14 198.00,400.21 198.50,400.28 199.00,400.34 199.50,400.40 200.00,400.45 200.50,400.50 201.00,400.55 201.50,400.60 202.00,400.64 202.50,400.68 203.00,400.71 203.50,400.75 204.00,400.78 204.50,400.81 205.00,400.83 205.50,400.86 206.00,400.88 206.50,400.90 207.00,400.92 207.50,400.94 208.00,400.96 208.50,400.97 209.00,400.99 209.50,401.00 210.00,401.01 210.50,401.03 211.00,401.04 211.50,401.05 212.00,401.05 212.50,401.06 213.00,401.07 213.50,401.08 214.00,401.08 214.50,401.09 215.00,401.10 215.50,401.10 216.00,401.11 216.50,401.11 217.00,401.12 217.50,401.12 218.00,401.12 218.50,401.13 219.00,401.13 219.50,401.13 220.00,401.13 220.50,401.14 221.00,401.14 221.50,401.14 222.00,401.14 222.50,401.15 223.00,401.15 223.50,401.15 224.00,401.15 224.50,401.15 225.00,401.15 225.50,401.16 226.00,401.16 226.50,401.16 227.00,401.16 227.50,401.16 228.00,401.16 228.50,401.16 229.00,401.16 229.50,401.17 230.00,401.17 230.50,401.17 231.00,401.17 231.50,401.17 232.00,401.17 232.50,401.17 233.00,401.17 233.50,401.17 234.00,401.17 234.50,401.18 235.00,401.18 235.50,401.18 236.00,401.18 236.50,401.18 237.00,401.18 237.50,401.18 238.00,401.18 238.50,401.18 239.00,401.18 239.50,401.18 240.00,401.19 240.50,401.19 241.00,401.19 241.50,401.19 242.00,401.19 242.50,401.19 243.00,401.19 243.50,401.19 244.00,401.19 244.50,401.19 245.00,401.19 245.50,401.20 246.00,401.20 246.50,401.20 247.00,401.20 247.50,401.20 248.00,401.20 248.50,401.20 249.00,401.20" stroke="#0000ff" stroke-width="2.1" fill="none"/>
<polyline points="254.60,400.37 255.10,400.37 255.60,400.37 256.10,400.37 256.60,400.36 257.10,400.36 257.60,400.35 258.10,400.35 258.60,400.34 259.10,400.34 259.60,400.33 260.10,400.32 260.60,400.31 261.10,400.29 261.60,400.28 262.10,400.26 262.60,400.24 263.10,400.21 263.60,400.19 264.10,400.16 264.60,400.12 265.10,400.08 265.60,400.03 266.10,399.98 266.60,399.92 267.10,399.85 267.60,399.78 268.10,399.69 268.60,399.59 269.10,399.49 269.60,399.37 270.10,399.24 270.60,399.10 271.10,398.94 271.60,398.76 272.10,398.57 272.60,398.36 273.10,398.14 273.60,397.89 274.10,397.63 274.60,397.34 275.10,397.03 275.60,396.71 276.10,396.36 276.60,395.99 277.10,395.59 277.60,395.18 278.10,394.74 278.60,394.29 279.10,393.81 279.60,393.32 280.10,392.81 280.60,392.29 281.10,391.75 281.60,391.21 282.10,390.65 282.60,390.09 283.10,389.53 283.60,388.97 284.10,388.42 284.60,387.87 285.10,387.34 285.60,386.82 286.10,386.33 286.60,385.85 287.10,385.41 287.60,385.00 288.10,384.63 288.60,384.30 289.10,384.01 289.60,383.78 290.10,383.59 290.60,383.46 291.10,383.40 291.30,383.39 291.60,383.40 292.10,383.44 292.60,383.54 293.10,383.69 293.60,383.90 294.10,384.16 294.60,384.46 295.10,384.82 295.60,385.23 296.10,385.68 296.60,386.17 297.10,386.69 297.60,387.25 298.10,387.83 298.60,388.43 299.10,389.05 299.60,389.67 300.10,390.31 300.60,390.94 301.10,391.57 301.60,392.19 302.10,392.80 302.60,393.39 303.10,393.96 303.60,394.51 304.10,395.04 304.60,395.54 305.10,396.01 305.60,396.45 306.10,396.86 306.60,397.24 307.10,397.59 307.60,397.92 308.10,398.21 308.60,398.48 309.10,398.72 309.60,398.94 310.10,399.13 310.60,399.31 311.10,399.46 311.60,399.60 312.10,399.71 312.60,399.82 313.10,399.90 313.60,399.98 314.10,400.05 314.60,400.10 315.10,400.15 315.60,400.19 316.10,400.23 316.60,400.25 317.10,400.28 317.60,400.30 318.10,400.31 318.60,400.33 319.10,400.34 319.60,400.35 320.10,400.35 320.60,400.36 321.10,400.36 321.60,400.37 322.10,400.37 322.60,400.37 323.10,400.37 323.60,400.38 324.10,400.38 324.60,400.38 325.10,400.38 325.60,400.38 326.10,400.38 326.60,400.38 327.10,400.38 327.60,400.38 328.10,400.38 328.60,400.38 329.10,400.38 329.60,400.38 330.10,400.38 330.60,400.38 331.10,400.38 331.60,400.38 332.10,400.38 332.60,400.38 333.10,400.38 333.60,400.38 334.10,400.38 334.60,400.38 335.10,400.38 335.60,400.38 336.10,400.38 336.60,400.38" stroke="#0000ff" stroke-width="2.1" fill="none"/>
<polyline points="26.00,464.30 26.50,464.30 27.00,464.30 27.50,464.30 28.00,464.30 28.50,464.30 29.00,464.30 29.50,464.30 30.00,464.30 30.50,464.30 31.00,464.31 31.50,464.31 32.00,464.31 32.50,464.31 33.00,464.31 33.50,464.31 34.00,464.31 34.50,464.31 35.00,464.31 35.50,464.31 36.00,464.31 36.50,464.31 37.00,464.31 37.50,464.31 38.00,464.31 38.50,464.31 39.00,464.31 39.50,464.31 40.00,464.31 40.50,464.31 41.00,464.31 41.50,464.31 42.00,464.32 42.50,464.32 43.00,464.32 43.50,464.32 44.00,464.32 44.50,464.32 45.00,464.32 45.50,464.32 46.00,464.32 46.50,464.32 47.00,464.32 47.50,464.32 48.00,464.32 48.50,464.32 49.00,464.32 49.50,464.32 50.00,464.32 50.50,464.32 51.00,464.32 51.50,464.32 52.00,464.32 52.50,464.32 53.00,464.33 53.50,464.33 54.00,464.33 54.50,464.33 55.00,464.33 55.50,464.33 56.00,464.33 56.50,464.33 57.00,464.33 57.50,464.33 58.00,464.33 58.50,464.33 59.00,464.33 59.50,464.33 60.00,464.33 60.50,464.33 61.00,464.33 61.50,464.33 62.00,464.33 62.50,464.33 63.00,464.33 63.50,464.33 64.00,464.33 64.50,464.33 65.00,464.34 65.50,464.34 66.00,464.34 66.50,464.34 67.00,464.34 67.50,464.34 68.00,464.34 68.50,464.34 69.00,464.34 69.50,464.34 70.00,464.34 70.50,464.34 71.00,464.34 71.50,464.34 72.00,464.34 72.50,464.34 73.00,464.33 73.50,464.33 74.00,464.33 74.50,464.33 75.00,464.33 75.50,464.33 76.00,464.33 76.50,464.32 77.00,464.32 77.50,464.32 78.00,464.31 78.50,464.31 79.00,464.30 79.50,464.30 80.00,464.29 80.50,464.29 81.00,464.28 81.50,464.27 82.00,464.26 82.50,464.25 83.00,464.23 83.50,464.22 84.00,464.20 84.50,464.18 85.00,464.16 85.50,464.14 86.00,464.12 86.50,464.09 87.00,464.06 87.50,464.03 88.00,463.99 88.50,463.95 89.00,463.91 89.50,463.86 90.00,463.81 90.50,463.75 91.00,463.68 91.50,463.62 92.00,463.54 92.50,463.46 93.00,463.37 93.50,463.28 94.00,463.17 94.50,463.06 95.00,462.94 95.50,462.81 96.00,462.67 96.50,462.52 97.00,462.36 97.50,462.18 98.00,462.00 98.50,461.80 99.00,461.58 99.50,461.36 100.00,461.12 100.50,460.86 101.00,460.59 101.50,460.30 102.00,460.00 102.50,459.67 103.00,459.33 103.50,458.97 104.00,458.59 104.50,458.19 105.00,457.77 105.50,457.33 106.00,456.87 106.50,456.39 107.00,455.89 107.50,455.36 108.00,454.81 108.50,454.24 109.00,453.65 109.50,453.03 110.00,452.40 110.50,451.74 111.00,451.06 111.50,450.35 112.00,449.63 112.50,448.88 113.00,448.11 113.50,447.33 114.00,446.52 114.50,445.69 115.00,444.85 115.50,443.99 116.00,443.11 116.50,442.22 117.00,441.31 117.50,440.39 118.00,439.45 118.50,438.51 119.00,437.55 119.50,436.59 120.00,435.62 120.50,434.65 121.00,433.67 121.50,432.69 122.00,431.71 122.50,430.73 123.00,429.75 123.50,428.78 124.00,427.81 124.50,426.85 125.00,425.90 125.50,424.96 126.00,424.03 126.50,423.12 127.00,422.22 127.50,421.34 128.00,420.48 128.50,419.64 129.00,418.82 129.50,418.02 130.00,417.25 130.50,416.50 131.00,415.78 131.50,415.09 132.00,414.43 132.50,413.79 133.00,413.19 133.50,412.61 134.00,412.07 134.50,411.56 135.00,411.08 135.50,410.64 136.00,410.23 136.50,409.85 137.00,409.50 137.50,409.19 138.00,408.91 138.50,408.66 139.00,408.44 139.50,408.25 140.00,408.10 140.50,407.97 141.00,407.86 141.50,407.79 142.00,407.73 142.50,407.70 143.00,407.69 143.30,407.69 143.50,407.69 144.00,407.72 144.50,407.78 145.00,407.87 145.50,408.00 146.00,408.17 146.50,408.38 147.00,408.62 147.50,408.90 148.00,409.22 148.50,409.57 149.00,409.97 149.50,410.40 150.00,410.86 150.50,411.36 151.00,411.90 151.50,412.47 152.00,413.07 152.50,413.70 153.00,414.36 153.50,415.06 154.00,415.78 154.50,416.53 155.00,417.30 155.50,418.09 156.00,418.91 156.50,419.75 157.00,420.61 157.50,421.49 158.00,422.38 158.50,423.29 159.00,424.21 159.50,425.14 160.00,426.08 160.50,427.02 161.00,427.98 161.50,428.94 162.00,429.90 162.50,430.86 163.00,431.83 163.50,432.79 164.00,433.75 164.50,434.70 165.00,435.65 165.50,436.59 166.00,437.53 166.50,438.45 167.00,439.36 167.50,440.26 168.00,441.15 168.50,442.03 169.00,442.89 169.50,443.73 170.00,444.56 170.50,445.37 171.00,446.16 171.50,446.94 172.00,447.70 172.50,448.44 173.00,449.15 173.50,449.85 174.00,450.53 174.50,451.19 175.00,451.83 175.50,452.45 176.00,453.05 176.50,453.62 177.00,454.18 177.50,454.72 178.00,455.23 178.50,455.73 179.00,456.21 179.50,456.67 180.00,457.11 180.50,457.53 181.00,457.93 181.50,458.31 182.00,458.68 182.50,459.03 183.00,459.36 183.50,459.68 184.00,459.98 184.50,460.26 185.00,460.54 185.50,460.79 186.00,461.04 186.50,461.26 187.00,461.48 187.50,461.69 188.00,461.88 188.50,462.06 189.00,462.23 189.50,462.39 190.00,462.54 190.50,462.68 191.00,462.82 191.50,462.94 192.00,463.06 192.50,463.16 193.00,463.26 193.50,463.36 194.00,463.45 194.50,463.53 195.00,463.60 195.50,463.67 196.00,463.74 196.50,463.80 197.00,463.85 197.50,463.91 198.00,463.95 198.50,464.00 199.00,464.04 199.50,464.08 200.00,464.11 200.50,464.14 201.00,464.17 201.50,464.20 202.00,464.22 202.50,464.25 203.00,464.27 203.50,464.29 204.00,464.30 204.50,464.32 205.00,464.33 205.50,464.35 206.00,464.36 206.50,464.37 207.00,464.38 207.50,464.39 208.00,464.40 208.50,464.40 209.00,464.41 209.50,464.42 210.00,464.42 210.50,464.43 211.00,464.43 211.50,464.44 212.00,464.44 212.50,464.44 213.00,464.45 213.50,464.45 214.00,464.45 214.50,464.45 215.00,464.46 215.50,464.46 216.00,464.46 216.50,464.46 217.00,464.46 217.50,464.47 218.00,464.47 218.50,464.47 219.00,464.47 219.50,464.47 220.00,464.47 220.50,464.47 221.00,464.47 221.50,464.47 222.00,464.47 222.50,464.48 223.00,464.48 223.50,464.48 224.00,464.48 224.50,464.48 225.00,464.48 225.50,464.48 226.00,464.48 226.50,464.48 227.00,464.48 227.50,464.48 228.00,464.48 228.50,464.48 229.00,464.48 229.50,464.48 230.00,464.48 230.50,464.48 231.00,464.48 231.50,464.49 232.00,464.49 232.50,464.49 233.00,464.49 233.50,464.49 234.00,464.49 234.50,464.49 235.00,464.49 235.50,464.49 236.00,464.49 236.50,464.49 237.00,464.49 237.50,464.49 238.00,464.49 238.50,464.49 239.00,464.49 239.50,464.49 240.00,464.49 240.50,464.49 241.00,464.49 241.50,464.49 242.00,464.49 242.50,464.50 243.00,464.50 243.50,464.50 244.00,464.50 244.50,464.50 245.00,464.50 245.50,464.50 246.00,464.50 246.50,464.50 247.00,464.50 247.50,464.50 248.00,464.50 248.50,464.50 249.00,464.50" stroke="#ff0000" stroke-width="2.1" fill="none"/>
<polyline points="254.60,464.56 255.10,464.56 255.60,464.56 256.10,464.56 256.60,464.56 257.10,464.56 257.60,464.55 258.10,464.55 258.60,464.55 259.10,464.55 259.60,464.54 260.10,464.54 260.60,464.53 261.10,464.52 261.60,464.51 262.10,464.49 262.60,464.47 263.10,464.45 263.60,464.42 264.10,464.39 264.60,464.35 265.10,464.30 265.60,464.24 266.10,464.17 266.60,464.08 267.10,463.98 267.60,463.87 268.10,463.74 268.60,463.58 269.10,463.41 269.60,463.21 270.10,462.98 270.60,462.72 271.10,462.44 271.60,462.12 272.10,461.77 272.60,461.38 273.10,460.96 273.60,460.51 274.10,460.01 274.60,459.48 275.10,458.91 275.60,458.31 276.10,457.68 276.60,457.01 277.10,456.32 277.60,455.61 278.10,454.87 278.60,454.11 279.10,453.35 279.60,452.57 280.10,451.79 280.60,451.02 281.10,450.25 281.60,449.50 282.10,448.76 282.60,448.05 283.10,447.36 283.60,446.71 284.10,446.09 284.60,445.51 285.10,444.97 285.60,444.48 286.10,444.04 286.60,443.65 287.10,443.30 287.60,443.00 288.10,442.75 288.60,442.55 289.10,442.39 289.60,442.28 290.10,442.20 290.60,442.15 291.10,442.13 291.44,442.13 291.60,442.13 292.10,442.16 292.60,442.24 293.10,442.36 293.60,442.53 294.10,442.76 294.60,443.04 295.10,443.37 295.60,443.75 296.10,444.18 296.60,444.66 297.10,445.18 297.60,445.75 298.10,446.35 298.60,446.98 299.10,447.65 299.60,448.33 300.10,449.04 300.60,449.77 301.10,450.50 301.60,451.24 302.10,451.98 302.60,452.72 303.10,453.45 303.60,454.17 304.10,454.88 304.60,455.56 305.10,456.23 305.60,456.87 306.10,457.49 306.60,458.08 307.10,458.64 307.60,459.17 308.10,459.67 308.60,460.14 309.10,460.58 309.60,460.99 310.10,461.37 310.60,461.71 311.10,462.03 311.60,462.32 312.10,462.59 312.60,462.83 313.10,463.04 313.60,463.24 314.10,463.41 314.60,463.56 315.10,463.70 315.60,463.82 316.10,463.93 316.60,464.02 317.10,464.10 317.60,464.17 318.10,464.23 318.60,464.28 319.10,464.33 319.60,464.37 320.10,464.40 320.60,464.43 321.10,464.45 321.60,464.47 322.10,464.49 322.60,464.50 323.10,464.51 323.60,464.52 324.10,464.53 324.60,464.53 325.10,464.54 325.60,464.54 326.10,464.55 326.60,464.55 327.10,464.55 327.60,464.55 328.10,464.56 328.60,464.56 329.10,464.56 329.60,464.56 330.10,464.56 330.60,464.56 331.10,464.56 331.60,464.56 332.10,464.56 332.60,464.56 333.10,464.56 333.60,464.56 334.10,464.56 334.60,464.56 335.10,464.56 335.60,464.56 336.10,464.56 336.60,464.56" stroke="#ff0000" stroke-width="2.1" fill="none"/>
<polyline points="26.00,540.70 26.50,540.70 27.00,540.70 27.50,540.70 28.00,540.70 28.50,540.70 29.00,540.70 29.50,540.70 30.00,540.70 30.50,540.70 31.00,540.70 31.50,540.70 32.00,540.70 32.50,540.70 33.00,540.70 33.50,540.70 34.00,540.70 34.50,540.70 35.00,540.70 35.50,540.70 36.00,540.70 36.50,540.69 37.00,540.69 37.50,540.69 38.00,540.69 38.50,540.69 39.00,540.69 39.50,540.69 40.00,540.69 40.50,540.69 41.00,540.69 41.50,540.69 42.00,540.69 42.50,540.69 43.00,540.69 43.50,540.69 44.00,540.69 44.50,540.69 45.00,540.69 45.50,540.69 46.00,540.69 46.50,540.69 47.00,540.69 47.50,540.69 48.00,540.69 48.50,540.69 49.00,540.69 49.50,540.69 50.00,540.69 50.50,540.69 51.00,540.69 51.50,540.69 52.00,540.69 52.50,540.69 53.00,540.69 53.50,540.69 54.00,540.69 54.50,540.69 55.00,540.69 55.50,540.69 56.00,540.69 56.50,540.69 57.00,540.69 57.50,540.68 58.00,540.68 58.50,540.68 59.00,540.68 59.50,540.68 60.00,540.68 60.50,540.68 61.00,540.68 61.50,540.68 62.00,540.68 62.50,540.68 63.00,540.68 63.50,540.68 64.00,540.68 64.50,540.68 65.00,540.68 65.50,540.68 66.00,540.68 66.50,540.68 67.00,540.68 67.50,540.67 68.00,540.67 68.50,540.67 69.00,540.67 69.50,540.67 70.00,540.67 70.50,540.67 71.00,540.67 71.50,540.66 72.00,540.66 72.50,540.66 73.00,540.66 73.50,540.65 74.00,540.65 74.50,540.65 75.00,540.64 75.50,540.64 76.00,540.64 76.50,540.63 77.00,540.63 77.50,540.62 78.00,540.61 78.50,540.61 79.00,540.60 79.50,540.59 80.00,540.58 80.50,540.57 81.00,540.56 81.50,540.55 82.00,540.53 82.50,540.52 83.00,540.50 83.50,540.48 84.00,540.47 84.50,540.44 85.00,540.42 85.50,540.40 86.00,540.37 86.50,540.34 87.00,540.31 87.50,540.28 88.00,540.24 88.50,540.20 89.00,540.16 89.50,540.11 90.00,540.06 90.50,540.00 91.00,539.94 91.50,539.88 92.00,539.81 92.50,539.74 93.00,539.66 93.50,539.57 94.00,539.48 94.50,539.38 95.00,539.28 95.50,539.16 96.00,539.04 96.50,538.92 97.00,538.78 97.50,538.63 98.00,538.47 98.50,538.31 99.00,538.13 99.50,537.94 100.00,537.74 100.50,537.53 101.00,537.30 101.50,537.06 102.00,536.81 102.50,536.54 103.00,536.26 103.50,535.96 104.00,535.64 104.50,535.31 105.00,534.96 105.50,534.59 106.00,534.20 106.50,533.79 107.00,533.37 107.50,532.92 108.00,532.45 108.50,531.96 109.00,531.45 109.50,530.91 110.00,530.35 110.50,529.77 111.00,529.17 111.50,528.54 112.00,527.88 112.50,527.20 113.00,526.50 113.50,525.77 114.00,525.02 114.50,524.24 115.00,523.43 115.50,522.60 116.00,521.74 116.50,520.86 117.00,519.96 117.50,519.03 118.00,518.07 118.50,517.09 119.00,516.09 119.50,515.07 120.00,514.03 120.50,512.96 121.00,511.88 121.50,510.77 122.00,509.65 122.50,508.52 123.00,507.37 123.50,506.20 124.00,505.02 124.50,503.83 125.00,502.64 125.50,501.43 126.00,500.22 126.50,499.01 127.00,497.79 127.50,496.58 128.00,495.36 128.50,494.16 129.00,492.96 129.50,491.76 130.00,490.58 130.50,489.42 131.00,488.27 131.50,487.14 132.00,486.03 132.50,484.94 133.00,483.88 133.50,482.85 134.00,481.84 134.50,480.88 135.00,479.94 135.50,479.05 136.00,478.19 136.50,477.38 137.00,476.62 137.50,475.90 138.00,475.23 138.50,474.61 139.00,474.04 139.50,473.53 140.00,473.08 140.50,472.68 141.00,472.35 141.50,472.08 142.00,471.87 142.50,471.73 143.00,471.66 143.20,471.66 143.50,471.66 144.00,471.70 144.50,471.78 145.00,471.92 145.50,472.10 146.00,472.33 146.50,472.62 147.00,472.96 147.50,473.35 148.00,473.81 148.50,474.31 149.00,474.87 149.50,475.49 150.00,476.15 150.50,476.87 151.00,477.64 151.50,478.46 152.00,479.33 152.50,480.25 153.00,481.21 153.50,482.21 154.00,483.25 154.50,484.33 155.00,485.44 155.50,486.59 156.00,487.77 156.50,488.97 157.00,490.21 157.50,491.46 158.00,492.73 158.50,494.02 159.00,495.32 159.50,496.63 160.00,497.95 160.50,499.28 161.00,500.61 161.50,501.93 162.00,503.26 162.50,504.58 163.00,505.89 163.50,507.19 164.00,508.47 164.50,509.75 165.00,511.00 165.50,512.24 166.00,513.45 166.50,514.65 167.00,515.81 167.50,516.96 168.00,518.07 168.50,519.16 169.00,520.22 169.50,521.25 170.00,522.25 170.50,523.22 171.00,524.16 171.50,525.06 172.00,525.94 172.50,526.77 173.00,527.58 173.50,528.36 174.00,529.10 174.50,529.81 175.00,530.49 175.50,531.14 176.00,531.75 176.50,532.34 177.00,532.90 177.50,533.43 178.00,533.93 178.50,534.40 179.00,534.85 179.50,535.27 180.00,535.67 180.50,536.04 181.00,536.39 181.50,536.72 182.00,537.03 182.50,537.31 183.00,537.58 183.50,537.83 184.00,538.06 184.50,538.28 185.00,538.48 185.50,538.67 186.00,538.84 186.50,539.00 187.00,539.15 187.50,539.28 188.00,539.40 188.50,539.52 189.00,539.62 189.50,539.72 190.00,539.81 190.50,539.89 191.00,539.96 191.50,540.03 192.00,540.09 192.50,540.14 193.00,540.19 193.50,540.24 194.00,540.28 194.50,540.32 195.00,540.35 195.50,540.38 196.00,540.41 196.50,540.43 197.00,540.45 197.50,540.47 198.00,540.49 198.50,540.50 199.00,540.52 199.50,540.53 200.00,540.54 200.50,540.55 201.00,540.56 201.50,540.57 202.00,540.57 202.50,540.58 203.00,540.58 203.50,540.59 204.00,540.59 204.50,540.60 205.00,540.60 205.50,540.60 206.00,540.60 206.50,540.61 207.00,540.61 207.50,540.61 208.00,540.61 208.50,540.61 209.00,540.61 209.50,540.61 210.00,540.61 210.50,540.61 211.00,540.61 211.50,540.61 212.00,540.61 212.50,540.61 213.00,540.61 213.50,540.61 214.00,540.61 214.50,540.61 215.00,540.61 215.50,540.61 216.00,540.61 216.50,540.61 217.00,540.61 217.50,540.61 218.00,540.61 218.50,540.61 219.00,540.61 219.50,540.61 220.00,540.61 220.50,540.61 221.00,540.61 221.50,540.61 222.00,540.61 222.50,540.61 223.00,540.61 223.50,540.61 224.00,540.61 224.50,540.61 225.00,540.61 225.50,540.61 226.00,540.61 226.50,540.61 227.00,540.61 227.50,540.61 228.00,540.61 228.50,540.61 229.00,540.61 229.50,540.61 230.00,540.61 230.50,540.61 231.00,540.61 231.50,540.61 232.00,540.61 232.50,540.61 233.00,540.61 233.50,540.61 234.00,540.61 234.50,540.61 235.00,540.61 235.50,540.61 236.00,540.61 236.50,540.61 237.00,540.60 237.50,540.60 238.00,540.60 238.50,540.60 239.00,540.60 239.50,540.60 240.00,540.60 240.50,540.60 241.00,540.60 241.50,540.60 242.00,540.60 242.50,540.60 243.00,540.60 243.50,540.60 244.00,540.60 244.50,540.60 245.00,540.60 245.50,540.60 246.00,540.60 246.50,540.60 247.00,540.60 247.50,540.60 248.00,540.60 248.50,540.60 249.00,540.60" stroke="#000000" stroke-width="2.1" fill="none"/>
<polyline points="254.60,540.84 255.10,540.84 255.60,540.84 256.10,540.84 256.60,540.83 257.10,540.83 257.60,540.82 258.10,540.81 258.60,540.80 259.10,540.79 259.60,540.77 260.10,540.76 260.60,540.73 261.10,540.71 261.60,540.67 262.10,540.64 262.60,540.59 263.10,540.53 263.60,540.47 264.10,540.40 264.60,540.31 265.10,540.21 265.60,540.09 266.10,539.96 266.60,539.81 267.10,539.64 267.60,539.45 268.10,539.23 268.60,538.99 269.10,538.73 269.60,538.43 270.10,538.11 270.60,537.76 271.10,537.38 271.60,536.97 272.10,536.53 272.60,536.05 273.10,535.55 273.60,535.02 274.10,534.46 274.60,533.87 275.10,533.26 275.60,532.63 276.10,531.97 276.60,531.30 277.10,530.62 277.60,529.93 278.10,529.23 278.60,528.53 279.10,527.84 279.60,527.15 280.10,526.47 280.60,525.80 281.10,525.15 281.60,524.53 282.10,523.93 282.60,523.36 283.10,522.83 283.60,522.32 284.10,521.86 284.60,521.43 285.10,521.05 285.60,520.70 286.10,520.40 286.60,520.14 287.10,519.92 287.60,519.73 288.10,519.59 288.60,519.48 289.10,519.41 289.60,519.36 290.10,519.34 290.60,519.33 291.10,519.33 291.60,519.35 292.10,519.38 292.60,519.43 293.10,519.52 293.60,519.63 294.10,519.77 294.60,519.96 295.10,520.18 295.60,520.44 296.10,520.75 296.60,521.10 297.10,521.49 297.60,521.92 298.10,522.40 298.60,522.91 299.10,523.46 299.60,524.05 300.10,524.67 300.60,525.32 301.10,526.00 301.60,526.70 302.10,527.41 302.60,528.14 303.10,528.87 303.60,529.61 304.10,530.34 304.60,531.07 305.10,531.78 305.60,532.48 306.10,533.16 306.60,533.82 307.10,534.45 307.60,535.05 308.10,535.62 308.60,536.16 309.10,536.66 309.60,537.13 310.10,537.56 310.60,537.96 311.10,538.32 311.60,538.65 312.10,538.95 312.60,539.21 313.10,539.45 313.60,539.66 314.10,539.84 314.60,540.00 315.10,540.14 315.60,540.26 316.10,540.37 316.60,540.45 317.10,540.53 317.60,540.59 318.10,540.64 318.60,540.68 319.10,540.72 319.60,540.74 320.10,540.77 320.60,540.79 321.10,540.80 321.60,540.81 322.10,540.82 322.60,540.83 323.10,540.83 323.60,540.84 324.10,540.84 324.60,540.84 325.10,540.85 325.60,540.85 326.10,540.85 326.60,540.85 327.10,540.85 327.60,540.85 328.10,540.85 328.60,540.85 329.10,540.85 329.60,540.85 330.10,540.85 330.60,540.85 331.10,540.85 331.60,540.85 332.10,540.85 332.60,540.85 333.10,540.85 333.60,540.85 334.10,540.85 334.60,540.85 335.10,540.85 335.60,540.85 336.10,540.85 336.60,540.85" stroke="#000000" stroke-width="2.1" fill="none"/>
<path d="M124.6,331.5V345.6M288.6,345.0V353M142.5,361.5V374.6M291.6,383.8V393.5M143.3,408.2V425.7M291.6,442.5V456.3M143.2,472.2V490M290.9,519.6V528.5" stroke="#555" stroke-width="1"/>
<path d="M248.5,308H25V553.4H248.5 M255.8,308H338V553.4H255.8" fill="none" stroke="#000" stroke-width="2"/>
<path d="M246.6,312.4L251.8,303.6M252.6,312.4L257.8,303.6M246.6,557.8L251.8,549.0M252.6,557.8L257.8,549.0" stroke="#000" stroke-width="1.8"/>
<path d="M50.00,554.4V558.4M133.00,554.4V558.4M216.00,554.4V558.4" stroke="#000" stroke-width="1.8"/>
<path d="M91.50,554.4V556.4M174.50,554.4V556.4M296.50,554.4V556.4" stroke="#000" stroke-width="1.5"/>
<text x="38.10" y="573.72" font-size="12.80" font-family="Liberation Serif, serif" font-weight="bold" fill="#000" stroke="#000" stroke-width="0.12" textLength="25.13" lengthAdjust="spacingAndGlyphs">28.5</text>
<text x="121.10" y="573.72" font-size="12.80" font-family="Liberation Serif, serif" font-weight="bold" fill="#000" stroke="#000" stroke-width="0.12" textLength="25.15" lengthAdjust="spacingAndGlyphs">29.0</text>
<text x="204.10" y="573.72" font-size="12.80" font-family="Liberation Serif, serif" font-weight="bold" fill="#000" stroke="#000" stroke-width="0.12" textLength="25.13" lengthAdjust="spacingAndGlyphs">29.5</text>
<text x="326.16" y="573.72" font-size="12.80" font-family="Liberation Serif, serif" font-weight="bold" fill="#000" stroke="#000" stroke-width="0.12" textLength="25.08" lengthAdjust="spacingAndGlyphs">31.0</text>
<text x="156.75" y="588.98" font-size="13.70" font-family="Liberation Serif, serif" font-weight="bold" fill="#000" stroke="#000" stroke-width="0.12" textLength="73.32" lengthAdjust="spacingAndGlyphs">2θ (degree)</text>
<text transform="translate(13.36,508.26) rotate(-90)" font-size="12.80" font-family="Liberation Serif, serif" font-weight="bold" fill="#000" stroke="#000" stroke-width="0.12" textLength="156.16" lengthAdjust="spacingAndGlyphs">Normalized intensity (a.u.)</text>
<text x="259.8" y="324.1" font-size="11.2" font-family="Liberation Sans, sans-serif">(b)</text>
<text x="102.22" y="359.31" font-size="13.30" font-family="Liberation Serif, serif" font-weight="bold" fill="#000" stroke="#000" stroke-width="0.12" textLength="31.14" lengthAdjust="spacingAndGlyphs">28.94</text>
<text x="127.61" y="389.41" font-size="13.30" font-family="Liberation Serif, serif" font-weight="bold" fill="#000" stroke="#000" stroke-width="0.12" textLength="31.40" lengthAdjust="spacingAndGlyphs">29.05</text>
<text x="127.41" y="444.41" font-size="13.30" font-family="Liberation Serif, serif" font-weight="bold" fill="#000" stroke="#000" stroke-width="0.12" textLength="31.50" lengthAdjust="spacingAndGlyphs">29.06</text>
<text x="127.41" y="508.71" font-size="13.30" font-family="Liberation Serif, serif" font-weight="bold" fill="#000" stroke="#000" stroke-width="0.12" textLength="31.60" lengthAdjust="spacingAndGlyphs">29.06</text>
<text x="273.88" y="367.81" font-size="13.30" font-family="Liberation Serif, serif" font-weight="bold" fill="#000" stroke="#000" stroke-width="0.12" textLength="31.04" lengthAdjust="spacingAndGlyphs">30.70</text>
<text x="274.68" y="413.21" font-size="13.30" font-family="Liberation Serif, serif" font-weight="bold" fill="#000" stroke="#000" stroke-width="0.12" textLength="31.11" lengthAdjust="spacingAndGlyphs">30.72</text>
<text x="276.08" y="473.21" font-size="13.30" font-family="Liberation Serif, serif" font-weight="bold" fill="#000" stroke="#000" stroke-width="0.12" textLength="31.11" lengthAdjust="spacingAndGlyphs">30.72</text>
<text x="276.07" y="545.81" font-size="13.30" font-family="Liberation Serif, serif" font-weight="bold" fill="#000" stroke="#000" stroke-width="0.12" textLength="31.94" lengthAdjust="spacingAndGlyphs">30.72</text>
<text x="28.93" y="363.48" font-size="12.00" font-family="Liberation Serif, serif" font-weight="bold" fill="#000" stroke="#000" stroke-width="0.12" textLength="7.01" lengthAdjust="spacingAndGlyphs">S</text>
<text x="36.46" y="367.40" font-size="8.70" font-family="Liberation Serif, serif" font-weight="bold" fill="#000" stroke="#000" stroke-width="0.12" textLength="7.95" lengthAdjust="spacingAndGlyphs">11</text>
<text x="44.42" y="363.82" font-size="12.00" font-family="Liberation Serif, serif" font-weight="bold" fill="#000" stroke="#000" stroke-width="0.12" textLength="36.11" lengthAdjust="spacingAndGlyphs">-BiVO</text>
<text x="79.98" y="367.40" font-size="8.70" font-family="Liberation Serif, serif" font-weight="bold" fill="#000" stroke="#000" stroke-width="0.12" textLength="4.28" lengthAdjust="spacingAndGlyphs">4</text>
<text x="29.41" y="417.88" font-size="12.00" font-family="Liberation Serif, serif" font-weight="bold" fill="#000" stroke="#000" stroke-width="0.12" textLength="7.25" lengthAdjust="spacingAndGlyphs">S</text>
<text x="36.90" y="421.82" font-size="8.70" font-family="Liberation Serif, serif" font-weight="bold" fill="#000" stroke="#000" stroke-width="0.12" textLength="8.73" lengthAdjust="spacingAndGlyphs">10</text>
<text x="45.24" y="418.02" font-size="12.00" font-family="Liberation Serif, serif" font-weight="bold" fill="#000" stroke="#000" stroke-width="0.12" textLength="34.56" lengthAdjust="spacingAndGlyphs">-BiVO</text>
<text x="80.80" y="421.90" font-size="8.70" font-family="Liberation Serif, serif" font-weight="bold" fill="#000" stroke="#000" stroke-width="0.12" textLength="3.63" lengthAdjust="spacingAndGlyphs">4</text>
<text x="29.81" y="479.68" font-size="12.00" font-family="Liberation Serif, serif" font-weight="bold" fill="#000" stroke="#000" stroke-width="0.12" textLength="7.25" lengthAdjust="spacingAndGlyphs">S</text>
<text x="37.31" y="483.22" font-size="8.70" font-family="Liberation Serif, serif" font-weight="bold" fill="#000" stroke="#000" stroke-width="0.12" textLength="4.38" lengthAdjust="spacingAndGlyphs">8</text>
<text x="41.85" y="479.82" font-size="12.00" font-family="Liberation Serif, serif" font-weight="bold" fill="#000" stroke="#000" stroke-width="0.12" textLength="33.84" lengthAdjust="spacingAndGlyphs">-BiVO</text>
<text x="76.80" y="483.40" font-size="8.70" font-family="Liberation Serif, serif" font-weight="bold" fill="#000" stroke="#000" stroke-width="0.12" textLength="3.63" lengthAdjust="spacingAndGlyphs">4</text>
<text x="32.60" y="533.42" font-size="12.00" font-family="Liberation Serif, serif" font-weight="bold" fill="#000" stroke="#000" stroke-width="0.12" textLength="30.00" lengthAdjust="spacingAndGlyphs">BiVO</text>
<text x="62.47" y="537.00" font-size="8.70" font-family="Liberation Serif, serif" font-weight="bold" fill="#000" stroke="#000" stroke-width="0.12" textLength="4.70" lengthAdjust="spacingAndGlyphs">4</text>
</svg>
</body></html>
